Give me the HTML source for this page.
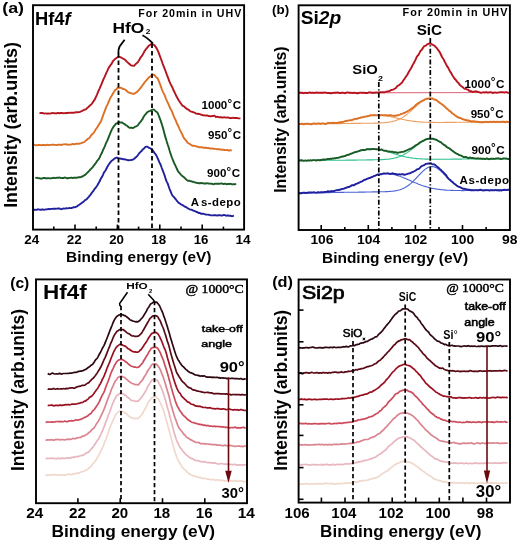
<!DOCTYPE html>
<html><head><meta charset="utf-8"><title>XPS spectra</title>
<style>html,body{margin:0;padding:0;background:#fff;}svg{display:block;}</style>
</head><body>
<svg width="520" height="545" viewBox="0 0 520 545">
<rect width="520" height="545" fill="#fff"/>
<path d="M39.5 113.0L40.2 113.1L40.9 113.0L41.6 113.0L42.3 113.0L43.0 113.1L43.7 113.4L44.4 113.6L45.1 113.4L45.8 113.4L46.5 113.6L47.2 113.7L47.9 113.5L48.6 113.4L49.3 113.6L50.0 113.6L50.7 113.4L51.4 113.2L52.1 113.1L52.8 113.0L53.5 113.1L54.2 113.2L54.9 113.3L55.6 113.4L56.3 113.5L57.0 113.2L57.7 112.9L58.4 113.0L59.1 113.3L59.8 113.2L60.5 113.0L61.2 113.0L61.9 112.9L62.6 113.1L63.3 113.2L64.0 113.1L64.7 113.1L65.4 113.2L66.1 113.0L66.8 112.9L67.5 113.0L68.2 112.8L68.9 112.7L69.6 112.9L70.3 112.9L71.0 112.7L71.7 112.7L72.4 112.7L73.1 112.7L73.8 112.9L74.5 112.7L75.2 112.3L75.9 112.3L76.6 112.4L77.3 112.3L78.0 112.2L78.7 112.1L79.4 112.1L80.1 111.9L80.8 111.5L81.5 111.2L82.2 110.9L82.9 110.5L83.6 110.1L84.3 109.7L85.0 109.6L85.7 109.4L86.4 108.9L87.1 108.1L87.8 107.5L88.5 107.0L89.2 106.1L89.9 105.5L90.6 105.0L91.3 104.4L92.0 103.5L92.7 102.4L93.4 101.3L94.1 100.4L94.8 99.4L95.5 97.8L96.2 96.3L96.9 94.8L97.6 93.2L98.3 91.4L99.0 89.8L99.7 88.3L100.4 86.7L101.1 85.2L101.8 83.4L102.5 81.6L103.2 79.9L103.9 78.3L104.6 76.9L105.3 75.3L106.0 73.7L106.7 72.1L107.4 70.7L108.1 69.0L108.8 67.6L109.5 66.6L110.2 65.6L110.9 64.7L111.6 63.8L112.3 62.3L113.0 61.1L113.7 60.3L114.4 59.6L115.1 58.9L115.8 58.4L116.5 58.1L117.2 57.6L117.9 57.0L118.6 56.9L119.3 56.9L120.0 57.0L120.7 57.3L121.4 57.6L122.1 58.1L122.8 58.5L123.5 58.8L124.2 59.2L124.9 59.8L125.6 60.3L126.3 61.1L127.0 61.9L127.7 62.5L128.4 63.1L129.1 63.7L129.8 64.3L130.5 64.9L131.2 65.4L131.9 65.6L132.6 65.6L133.3 65.9L134.0 65.8L134.7 65.1L135.4 64.4L136.1 63.7L136.8 63.1L137.5 62.6L138.2 61.6L138.9 60.5L139.6 59.3L140.3 58.0L141.0 56.9L141.7 56.1L142.4 55.1L143.1 53.9L143.8 52.6L144.5 51.3L145.2 50.2L145.9 49.2L146.6 48.4L147.3 47.6L148.0 46.7L148.7 45.8L149.4 45.3L150.1 45.0L150.8 44.3L151.5 43.9L152.2 44.1L152.9 44.4L153.6 44.6L154.3 45.2L155.0 46.0L155.7 46.8L156.4 48.0L157.1 49.3L157.8 50.7L158.5 52.3L159.2 54.2L159.9 56.1L160.6 58.0L161.3 59.8L162.0 61.8L162.7 63.9L163.4 65.6L164.1 67.4L164.8 69.2L165.5 71.0L166.2 72.9L166.9 74.9L167.6 76.6L168.3 78.4L169.0 80.3L169.7 82.1L170.4 83.7L171.1 85.1L171.8 86.3L172.5 87.7L173.2 89.5L173.9 91.0L174.6 92.3L175.3 93.8L176.0 95.3L176.7 96.8L177.4 98.1L178.1 99.3L178.8 100.5L179.5 101.4L180.2 102.5L180.9 103.5L181.6 104.5L182.3 105.5L183.0 106.0L183.7 106.1L184.4 106.7L185.1 107.5L185.8 108.0L186.5 108.7L187.2 109.2L187.9 109.3L188.6 109.7L189.3 110.5L190.0 111.0L190.7 111.4L191.4 111.6L192.1 111.8L192.8 112.0L193.5 112.4L194.2 112.5L194.9 112.8L195.6 113.3L196.3 113.6L197.0 113.7L197.7 113.7L198.4 113.8L199.1 114.0L199.8 114.2L200.5 114.5L201.2 114.7L201.9 114.9L202.6 115.3L203.3 115.4L204.0 115.3L204.7 115.4L205.4 115.6L206.1 115.5L206.8 115.4L207.5 115.7L208.2 116.0L208.9 116.0L209.6 116.1L210.3 116.2L211.0 116.4L211.7 116.2L212.4 115.9L213.1 116.0L213.8 115.9L214.5 115.8L215.2 116.4L215.9 117.0L216.6 116.8L217.3 116.6L218.0 116.8L218.7 117.1L219.4 117.2L220.1 117.2L220.8 117.2L221.5 117.3L222.2 117.5L222.9 117.5L223.6 117.4L224.3 117.3L225.0 117.4L225.7 117.6L226.4 117.6L227.1 117.5L227.8 117.5L228.5 117.6L229.2 117.7L229.9 118.1L230.6 118.2L231.3 118.0L232.0 118.1L232.7 117.9L233.4 117.6L234.1 117.8L234.8 118.1L235.5 118.0L236.2 117.9L236.9 118.0L237.6 118.2L238.3 118.4L239.0 118.4L239.7 118.4L240.4 118.6" stroke="#b4141e" stroke-width="1.9" fill="none" stroke-linejoin="round"/>
<path d="M33.0 144.9L33.7 144.7L34.4 144.8L35.1 145.2L35.8 145.4L36.5 145.3L37.2 145.2L37.9 145.1L38.6 145.0L39.3 145.0L40.0 144.9L40.7 145.1L41.4 145.3L42.1 145.2L42.8 145.0L43.5 144.8L44.2 145.0L44.9 145.3L45.6 145.2L46.3 145.0L47.0 144.8L47.7 144.8L48.4 145.0L49.1 145.1L49.8 145.0L50.5 144.9L51.2 144.9L51.9 144.8L52.6 144.7L53.3 144.7L54.0 144.9L54.7 144.9L55.4 144.9L56.1 145.0L56.8 145.1L57.5 144.9L58.2 144.7L58.9 144.8L59.6 144.7L60.3 144.6L61.0 144.8L61.7 145.0L62.4 144.7L63.1 144.4L63.8 144.4L64.5 144.4L65.2 144.2L65.9 144.3L66.6 144.5L67.3 144.5L68.0 144.6L68.7 144.7L69.4 144.6L70.1 144.6L70.8 144.6L71.5 144.3L72.2 144.0L72.9 143.9L73.6 144.1L74.3 144.4L75.0 144.2L75.7 143.8L76.4 143.6L77.1 143.7L77.8 143.8L78.5 143.7L79.2 143.7L79.9 143.5L80.6 143.3L81.3 143.1L82.0 142.8L82.7 142.5L83.4 142.4L84.1 142.2L84.8 141.6L85.5 140.9L86.2 140.3L86.9 139.8L87.6 139.1L88.3 138.6L89.0 138.4L89.7 137.7L90.4 136.6L91.1 135.5L91.8 134.7L92.5 133.9L93.2 133.3L93.9 132.6L94.6 131.4L95.3 130.1L96.0 129.0L96.7 128.1L97.4 127.1L98.1 125.9L98.8 124.7L99.5 123.6L100.2 122.6L100.9 121.4L101.6 119.7L102.3 117.6L103.0 115.7L103.7 113.7L104.4 111.9L105.1 110.1L105.8 108.2L106.5 106.5L107.2 105.1L107.9 103.6L108.6 102.0L109.3 100.5L110.0 98.7L110.7 97.3L111.4 96.2L112.1 95.0L112.8 93.7L113.5 92.6L114.2 91.5L114.9 90.3L115.6 89.7L116.3 89.3L117.0 88.5L117.7 87.8L118.4 87.8L119.1 87.9L119.8 87.9L120.5 87.8L121.2 87.8L121.9 88.2L122.6 88.8L123.3 89.0L124.0 89.2L124.7 89.4L125.4 89.8L126.1 90.2L126.8 91.0L127.5 91.7L128.2 92.1L128.9 92.6L129.6 92.9L130.3 92.9L131.0 93.2L131.7 93.5L132.4 93.8L133.1 93.8L133.8 93.8L134.5 93.6L135.2 93.1L135.9 92.6L136.6 92.3L137.3 91.7L138.0 90.8L138.7 90.1L139.4 89.3L140.1 88.4L140.8 87.6L141.5 86.7L142.2 85.7L142.9 84.7L143.6 83.7L144.3 82.8L145.0 81.8L145.7 81.1L146.4 80.3L147.1 79.5L147.8 78.6L148.5 77.8L149.2 77.2L149.9 76.8L150.6 76.1L151.3 75.4L152.0 74.9L152.7 74.7L153.4 74.8L154.1 74.9L154.8 75.3L155.5 76.3L156.2 77.2L156.9 77.6L157.6 78.4L158.3 79.8L159.0 81.5L159.7 83.4L160.4 85.2L161.1 87.1L161.8 89.1L162.5 90.8L163.2 92.3L163.9 93.7L164.6 95.1L165.3 96.8L166.0 98.8L166.7 100.4L167.4 101.8L168.1 103.4L168.8 104.9L169.5 106.6L170.2 108.3L170.9 109.4L171.6 110.7L172.3 112.3L173.0 114.1L173.7 116.1L174.4 117.7L175.1 119.0L175.8 120.5L176.5 122.4L177.2 124.0L177.9 125.2L178.6 126.8L179.3 128.5L180.0 130.1L180.7 131.4L181.4 132.8L182.1 134.1L182.8 135.6L183.5 137.2L184.2 138.4L184.9 139.2L185.6 140.0L186.3 140.9L187.0 141.9L187.7 142.8L188.4 143.3L189.1 143.7L189.8 144.0L190.5 144.4L191.2 144.9L191.9 145.5L192.6 145.8L193.3 145.7L194.0 145.7L194.7 145.9L195.4 146.1L196.1 146.3L196.8 146.5L197.5 146.7L198.2 147.0L198.9 147.1L199.6 147.2L200.3 147.2L201.0 147.2L201.7 147.3L202.4 147.4L203.1 147.6L203.8 147.8L204.5 147.8L205.2 147.7L205.9 147.8L206.6 147.9L207.3 148.0L208.0 148.0L208.7 148.0L209.4 148.3L210.1 148.5L210.8 148.5L211.5 148.5L212.2 148.5L212.9 148.6L213.6 148.7L214.3 148.8L215.0 148.9L215.7 148.9L216.4 149.1L217.1 149.2L217.8 149.2L218.5 149.3L219.2 149.3L219.9 149.3L220.6 149.5L221.3 149.7L222.0 149.8L222.7 149.8L223.4 149.7L224.1 149.8L224.8 150.0L225.5 150.1L226.2 150.0L226.9 149.9L227.6 150.2L228.3 150.5L229.0 150.6L229.7 150.3L230.4 150.2L231.1 150.4L231.8 150.5" stroke="#dc7024" stroke-width="1.9" fill="none" stroke-linejoin="round"/>
<path d="M35.3 177.8L36.0 177.9L36.7 177.9L37.4 177.8L38.1 178.1L38.8 178.3L39.5 178.3L40.2 178.4L40.9 178.7L41.6 178.6L42.3 178.3L43.0 178.0L43.7 177.9L44.4 178.0L45.1 178.2L45.8 178.3L46.5 178.3L47.2 178.3L47.9 178.1L48.6 178.1L49.3 178.3L50.0 178.4L50.7 178.4L51.4 178.2L52.1 178.1L52.8 178.0L53.5 177.8L54.2 177.8L54.9 178.0L55.6 178.1L56.3 177.9L57.0 177.7L57.7 177.8L58.4 177.8L59.1 177.6L59.8 177.5L60.5 177.8L61.2 178.1L61.9 178.1L62.6 177.9L63.3 178.0L64.0 177.8L64.7 177.5L65.4 177.7L66.1 178.0L66.8 178.2L67.5 178.3L68.2 178.2L68.9 178.0L69.6 177.9L70.3 177.9L71.0 177.7L71.7 177.7L72.4 178.0L73.1 178.0L73.8 177.7L74.5 177.6L75.2 177.7L75.9 177.7L76.6 177.7L77.3 177.6L78.0 177.3L78.7 177.1L79.4 177.2L80.1 177.4L80.8 177.2L81.5 176.7L82.2 176.5L82.9 176.3L83.6 175.7L84.3 175.2L85.0 174.9L85.7 174.4L86.4 173.6L87.1 172.9L87.8 172.3L88.5 171.6L89.2 170.9L89.9 170.0L90.6 169.2L91.3 168.6L92.0 167.8L92.7 167.1L93.4 166.2L94.1 165.2L94.8 164.3L95.5 163.4L96.2 162.5L96.9 161.3L97.6 160.3L98.3 159.6L99.0 158.7L99.7 157.4L100.4 155.7L101.1 154.3L101.8 153.0L102.5 151.3L103.2 149.6L103.9 148.3L104.6 146.8L105.3 145.0L106.0 143.2L106.7 141.8L107.4 140.4L108.1 138.6L108.8 136.8L109.5 135.1L110.2 133.4L110.9 131.7L111.6 130.1L112.3 128.7L113.0 127.5L113.7 126.5L114.4 125.7L115.1 124.7L115.8 123.8L116.5 123.4L117.2 123.1L117.9 122.8L118.6 122.3L119.3 122.0L120.0 122.3L120.7 122.6L121.4 122.5L122.1 122.5L122.8 123.0L123.5 123.6L124.2 123.8L124.9 124.3L125.6 125.0L126.3 125.4L127.0 125.8L127.7 126.3L128.4 127.1L129.1 127.6L129.8 127.8L130.5 127.8L131.2 127.7L131.9 127.9L132.6 128.0L133.3 127.8L134.0 127.6L134.7 127.1L135.4 126.6L136.1 126.4L136.8 126.0L137.5 125.5L138.2 124.8L138.9 123.8L139.6 122.8L140.3 122.1L141.0 121.2L141.7 120.2L142.4 119.3L143.1 117.9L143.8 116.5L144.5 115.5L145.2 114.6L145.9 113.9L146.6 113.0L147.3 112.2L148.0 111.8L148.7 111.4L149.4 111.1L150.1 110.9L150.8 110.5L151.5 110.2L152.2 109.9L152.9 109.6L153.6 109.5L154.3 109.8L155.0 110.6L155.7 111.3L156.4 111.8L157.1 112.3L157.8 113.3L158.5 115.0L159.2 116.8L159.9 118.6L160.6 120.5L161.3 122.6L162.0 124.8L162.7 127.1L163.4 129.5L164.1 132.2L164.8 135.1L165.5 137.4L166.2 139.6L166.9 142.0L167.6 144.2L168.3 146.2L169.0 148.6L169.7 151.0L170.4 153.2L171.1 155.3L171.8 157.3L172.5 159.0L173.2 160.6L173.9 162.4L174.6 164.0L175.3 165.3L176.0 166.8L176.7 168.5L177.4 170.0L178.1 171.4L178.8 172.3L179.5 172.9L180.2 173.8L180.9 174.6L181.6 175.3L182.3 176.0L183.0 176.5L183.7 177.0L184.4 177.7L185.1 178.3L185.8 179.0L186.5 179.7L187.2 180.3L187.9 180.8L188.6 180.8L189.3 180.7L190.0 181.0L190.7 181.1L191.4 181.4L192.1 181.7L192.8 181.7L193.5 181.8L194.2 182.2L194.9 182.5L195.6 182.6L196.3 182.7L197.0 182.9L197.7 183.0L198.4 183.2L199.1 183.3L199.8 183.3L200.5 183.2L201.2 183.0L201.9 183.2L202.6 183.3L203.3 183.3L204.0 183.4L204.7 183.7L205.4 183.6L206.1 183.2L206.8 183.1L207.5 183.4L208.2 183.5L208.9 183.5L209.6 183.6L210.3 183.6L211.0 183.7L211.7 183.6L212.4 183.8L213.1 184.2L213.8 184.2L214.5 183.8L215.2 183.6L215.9 183.7L216.6 183.8L217.3 183.7L218.0 183.7L218.7 183.8L219.4 183.7L220.1 183.6L220.8 183.6L221.5 183.4L222.2 183.5L222.9 183.8L223.6 184.0L224.3 183.8L225.0 183.7L225.7 183.9L226.4 184.2L227.1 184.2L227.8 184.0L228.5 184.0L229.2 184.0L229.9 183.9L230.6 183.8L231.3 184.0L232.0 184.3L232.7 184.4L233.4 184.3L234.1 184.2L234.8 184.2L235.5 184.1L236.2 184.0" stroke="#1a5a24" stroke-width="1.9" fill="none" stroke-linejoin="round"/>
<path d="M33.0 210.4L33.7 210.2L34.4 209.8L35.1 209.8L35.8 209.9L36.5 209.9L37.2 209.5L37.9 209.3L38.6 209.4L39.3 209.6L40.0 209.7L40.7 209.8L41.4 209.7L42.1 209.5L42.8 209.3L43.5 209.6L44.2 209.8L44.9 209.6L45.6 209.4L46.3 209.4L47.0 209.4L47.7 209.1L48.4 209.0L49.1 209.2L49.8 209.1L50.5 209.0L51.2 208.9L51.9 208.9L52.6 208.9L53.3 208.7L54.0 208.6L54.7 208.8L55.4 208.8L56.1 208.6L56.8 208.6L57.5 208.7L58.2 208.5L58.9 208.5L59.6 208.5L60.3 208.9L61.0 209.2L61.7 209.1L62.4 208.7L63.1 208.6L63.8 208.5L64.5 208.6L65.2 208.5L65.9 208.3L66.6 208.3L67.3 208.4L68.0 208.4L68.7 208.2L69.4 208.0L70.1 208.1L70.8 208.1L71.5 208.0L72.2 207.9L72.9 207.5L73.6 207.2L74.3 207.4L75.0 207.3L75.7 206.9L76.4 206.6L77.1 206.3L77.8 205.7L78.5 205.1L79.2 204.8L79.9 204.4L80.6 203.8L81.3 203.3L82.0 202.7L82.7 202.1L83.4 201.8L84.1 201.1L84.8 200.3L85.5 199.9L86.2 199.6L86.9 199.0L87.6 198.1L88.3 197.3L89.0 196.6L89.7 195.6L90.4 194.8L91.1 193.9L91.8 192.8L92.5 191.9L93.2 191.1L93.9 190.1L94.6 189.0L95.3 188.1L96.0 187.3L96.7 186.2L97.4 185.2L98.1 184.0L98.8 182.8L99.5 181.5L100.2 180.0L100.9 178.6L101.6 177.4L102.3 176.4L103.0 174.9L103.7 173.1L104.4 171.9L105.1 171.0L105.8 169.9L106.5 168.5L107.2 167.1L107.9 165.9L108.6 164.8L109.3 163.7L110.0 162.7L110.7 161.8L111.4 161.1L112.1 160.6L112.8 160.1L113.5 159.4L114.2 158.8L114.9 158.4L115.6 158.0L116.3 157.7L117.0 157.6L117.7 157.9L118.4 158.3L119.1 158.4L119.8 158.5L120.5 158.7L121.2 158.7L121.9 158.8L122.6 159.1L123.3 159.3L124.0 159.2L124.7 159.3L125.4 159.5L126.1 159.6L126.8 159.8L127.5 160.1L128.2 160.2L128.9 160.2L129.6 160.1L130.3 160.1L131.0 160.0L131.7 159.8L132.4 159.8L133.1 159.5L133.8 159.1L134.5 158.6L135.2 157.8L135.9 157.2L136.6 156.7L137.3 155.9L138.0 155.0L138.7 154.0L139.4 153.0L140.1 152.3L140.8 151.6L141.5 151.0L142.2 150.2L142.9 149.4L143.6 148.8L144.3 148.1L145.0 147.3L145.7 146.8L146.4 146.6L147.1 146.6L147.8 147.1L148.5 147.6L149.2 147.9L149.9 148.2L150.6 148.5L151.3 149.1L152.0 149.6L152.7 150.3L153.4 151.3L154.1 152.4L154.8 153.3L155.5 154.1L156.2 155.2L156.9 156.6L157.6 158.1L158.3 159.6L159.0 161.3L159.7 162.9L160.4 164.2L161.1 166.0L161.8 168.0L162.5 169.8L163.2 171.6L163.9 173.5L164.6 175.4L165.3 177.7L166.0 180.0L166.7 181.6L167.4 182.9L168.1 184.7L168.8 186.8L169.5 188.8L170.2 190.4L170.9 192.1L171.6 193.9L172.3 195.3L173.0 196.1L173.7 196.8L174.4 197.6L175.1 198.5L175.8 199.3L176.5 200.3L177.2 201.1L177.9 202.0L178.6 202.9L179.3 203.2L180.0 203.5L180.7 204.2L181.4 204.7L182.1 204.9L182.8 205.2L183.5 205.7L184.2 206.2L184.9 206.7L185.6 206.8L186.3 207.1L187.0 207.7L187.7 208.2L188.4 208.7L189.1 209.0L189.8 209.4L190.5 209.6L191.2 209.6L191.9 209.9L192.6 210.3L193.3 210.7L194.0 210.9L194.7 211.0L195.4 211.3L196.1 211.8L196.8 212.0L197.5 212.2L198.2 212.9L198.9 213.0L199.6 212.8L200.3 213.2L201.0 213.8L201.7 213.8L202.4 213.7L203.1 213.8L203.8 213.9L204.5 214.1L205.2 214.3L205.9 214.6L206.6 214.6L207.3 214.6L208.0 214.6L208.7 214.8L209.4 214.9L210.1 215.1L210.8 215.4L211.5 215.4L212.2 215.4L212.9 215.4L213.6 215.3L214.3 215.3L215.0 215.3L215.7 215.3L216.4 215.4L217.1 215.5L217.8 215.5L218.5 215.2L219.2 215.2L219.9 215.3L220.6 215.4L221.3 215.5L222.0 215.6L222.7 215.3L223.4 215.0L224.1 215.0L224.8 215.1L225.5 215.4L226.2 215.8L226.9 215.6L227.6 215.3L228.3 215.5L229.0 215.9L229.7 215.8L230.4 215.7L231.1 216.0L231.8 216.2L232.5 216.1L233.2 215.8L233.9 215.7" stroke="#20209e" stroke-width="1.9" fill="none" stroke-linejoin="round"/>
<path d="M118.5 53V229M152 43.5V229" stroke="#000" stroke-width="1.8" stroke-dasharray="4.5 3" fill="none"/>
<path d="M118.4 53.5C118.2 50 118.8 48 119.6 46.5L124.6 39.8" stroke="#000" stroke-width="1.8" fill="none"/>
<path d="M142.5 35.2C146 37 149 39.5 152.9 43.3" stroke="#000" stroke-width="1.8" fill="none"/>
<path d="M299 92.9L509 92.5" stroke="#e07080" stroke-width="1.1" fill="none"/>
<path d="M299.0 93.0L299.7 92.8L300.4 92.7L301.1 92.7L301.8 92.7L302.5 92.8L303.2 93.1L303.9 93.2L304.6 92.9L305.3 92.8L306.0 92.9L306.7 93.0L307.4 93.1L308.1 92.8L308.8 92.6L309.5 92.4L310.2 92.6L310.9 92.9L311.6 92.8L312.3 92.7L313.0 92.7L313.7 92.9L314.4 92.9L315.1 92.8L315.8 92.6L316.5 92.4L317.2 92.6L317.9 92.9L318.6 92.6L319.3 92.6L320.0 92.8L320.7 92.7L321.4 92.7L322.1 92.8L322.8 92.8L323.5 92.7L324.2 92.5L324.9 92.6L325.6 92.6L326.3 92.7L327.0 92.9L327.7 93.1L328.4 93.0L329.1 92.9L329.8 93.1L330.5 93.2L331.2 93.3L331.9 93.2L332.6 92.9L333.3 92.9L334.0 92.8L334.7 92.7L335.4 92.7L336.1 92.7L336.8 92.6L337.5 92.4L338.2 92.5L338.9 92.8L339.6 93.1L340.3 93.1L341.0 92.9L341.7 92.7L342.4 92.7L343.1 92.8L343.8 92.9L344.5 93.1L345.2 93.2L345.9 92.8L346.6 92.5L347.3 92.4L348.0 92.4L348.7 92.6L349.4 92.9L350.1 92.8L350.8 92.6L351.5 92.9L352.2 93.0L352.9 92.8L353.6 92.6L354.3 92.7L355.0 92.9L355.7 93.0L356.4 93.2L357.1 93.2L357.8 93.2L358.5 93.2L359.2 92.9L359.9 92.6L360.6 92.6L361.3 92.8L362.0 92.8L362.7 92.9L363.4 92.7L364.1 92.7L364.8 93.0L365.5 93.0L366.2 92.9L366.9 93.0L367.6 93.0L368.3 92.7L369.0 92.3L369.7 92.4L370.4 92.5L371.1 92.5L371.8 92.8L372.5 92.9L373.2 92.6L373.9 92.6L374.6 92.9L375.3 92.6L376.0 92.4L376.7 92.5L377.4 92.6L378.1 92.5L378.8 92.5L379.5 92.3L380.2 92.2L380.9 92.3L381.6 92.4L382.3 92.2L383.0 92.1L383.7 92.3L384.4 92.3L385.1 92.1L385.8 91.9L386.5 91.6L387.2 91.4L387.9 91.4L388.6 91.4L389.3 91.2L390.0 90.7L390.7 90.2L391.4 90.0L392.1 89.9L392.8 89.7L393.5 89.4L394.2 89.0L394.9 88.7L395.6 88.3L396.3 87.4L397.0 86.5L397.7 85.9L398.4 85.5L399.1 85.2L399.8 84.5L400.5 83.9L401.2 83.3L401.9 82.6L402.6 81.6L403.3 80.5L404.0 79.5L404.7 78.6L405.4 77.5L406.1 76.4L406.8 75.5L407.5 74.4L408.2 73.0L408.9 71.7L409.6 70.6L410.3 69.5L411.0 68.3L411.7 67.0L412.4 65.6L413.1 64.2L413.8 63.0L414.5 61.7L415.2 60.4L415.9 58.9L416.6 57.2L417.3 56.1L418.0 55.4L418.7 54.4L419.4 53.1L420.1 51.7L420.8 50.6L421.5 50.0L422.2 49.2L422.9 48.0L423.6 46.9L424.3 46.1L425.0 45.9L425.7 45.7L426.4 45.1L427.1 44.6L427.8 44.1L428.5 43.8L429.2 43.7L429.9 43.5L430.6 43.6L431.3 44.0L432.0 44.4L432.7 44.8L433.4 45.1L434.1 45.4L434.8 45.9L435.5 46.8L436.2 47.5L436.9 48.2L437.6 49.2L438.3 50.2L439.0 51.1L439.7 52.1L440.4 53.5L441.1 55.0L441.8 56.5L442.5 57.8L443.2 58.6L443.9 59.9L444.6 61.5L445.3 62.7L446.0 64.1L446.7 65.6L447.4 66.6L448.1 67.6L448.8 68.9L449.5 70.4L450.2 71.6L450.9 72.6L451.6 73.8L452.3 75.2L453.0 76.3L453.7 77.3L454.4 78.4L455.1 79.3L455.8 79.9L456.5 80.9L457.2 81.9L457.9 82.5L458.6 83.1L459.3 84.1L460.0 85.1L460.7 85.7L461.4 86.1L462.1 86.8L462.8 87.3L463.5 87.9L464.2 88.5L464.9 88.8L465.6 88.9L466.3 89.1L467.0 89.6L467.7 89.6L468.4 89.9L469.1 90.8L469.8 91.2L470.5 91.2L471.2 91.2L471.9 91.5L472.6 91.9L473.3 91.9L474.0 91.6L474.7 91.5L475.4 91.5L476.1 91.4L476.8 91.5L477.5 91.8L478.2 91.9L478.9 92.1L479.6 92.4L480.3 92.7L481.0 92.7L481.7 92.6L482.4 92.5L483.1 92.3L483.8 92.4L484.5 92.5L485.2 92.3L485.9 92.2L486.6 92.2L487.3 92.5L488.0 92.7L488.7 92.5L489.4 92.4L490.1 92.3L490.8 92.1L491.5 92.3L492.2 92.9L492.9 93.1L493.6 92.7L494.3 92.5L495.0 92.5L495.7 92.6L496.4 92.7L497.1 92.7L497.8 92.6L498.5 92.6L499.2 92.4L499.9 92.2L500.6 92.1L501.3 92.2L502.0 92.2L502.7 92.3L503.4 92.3L504.1 92.5L504.8 92.5L505.5 92.2L506.2 92.2L506.9 92.3L507.6 92.7L508.3 92.9L509.0 92.8" stroke="#b8121e" stroke-width="1.9" fill="none" stroke-linejoin="round"/>
<path d="M299.0 124.0L299.7 124.0L300.4 124.0L301.1 124.0L301.8 124.0L302.5 124.0L303.2 123.9L303.9 123.9L304.6 123.9L305.3 123.9L306.0 123.9L306.7 123.9L307.4 123.9L308.1 123.9L308.8 123.9L309.5 123.9L310.2 123.9L310.9 123.8L311.6 123.8L312.3 123.8L313.0 123.8L313.7 123.8L314.4 123.8L315.1 123.8L315.8 123.7L316.5 123.7L317.2 123.7L317.9 123.7L318.6 123.7L319.3 123.7L320.0 123.6L320.7 123.6L321.4 123.6L322.1 123.6L322.8 123.5L323.5 123.5L324.2 123.5L324.9 123.5L325.6 123.4L326.3 123.4L327.0 123.4L327.7 123.3L328.4 123.3L329.1 123.2L329.8 123.2L330.5 123.1L331.2 123.1L331.9 123.0L332.6 123.0L333.3 122.9L334.0 122.8L334.7 122.8L335.4 122.7L336.1 122.6L336.8 122.5L337.5 122.5L338.2 122.4L338.9 122.3L339.6 122.2L340.3 122.1L341.0 122.0L341.7 121.9L342.4 121.8L343.1 121.6L343.8 121.5L344.5 121.4L345.2 121.3L345.9 121.1L346.6 121.0L347.3 120.8L348.0 120.7L348.7 120.5L349.4 120.4L350.1 120.2L350.8 120.1L351.5 119.9L352.2 119.7L352.9 119.6L353.6 119.4L354.3 119.2L355.0 119.0L355.7 118.9L356.4 118.7L357.1 118.5L357.8 118.3L358.5 118.2L359.2 118.0L359.9 117.8L360.6 117.6L361.3 117.5L362.0 117.3L362.7 117.1L363.4 117.0L364.1 116.8L364.8 116.7L365.5 116.5L366.2 116.4L366.9 116.2L367.6 116.1L368.3 116.0L369.0 115.9L369.7 115.8L370.4 115.7L371.1 115.6L371.8 115.5L372.5 115.4L373.2 115.4L373.9 115.3L374.6 115.3L375.3 115.2L376.0 115.2L376.7 115.2L377.4 115.2L378.1 115.2L378.8 115.2L379.5 115.2L380.2 115.3L380.9 115.3L381.6 115.3L382.3 115.4L383.0 115.5L383.7 115.5L384.4 115.6L385.1 115.7L385.8 115.8L386.5 115.9L387.2 116.1L387.9 116.2L388.6 116.3L389.3 116.4L390.0 116.6L390.7 116.7L391.4 116.9L392.1 117.0L392.8 117.2L393.5 117.3L394.2 117.5L394.9 117.6L395.6 117.8L396.3 118.0L397.0 118.1L397.7 118.3L398.4 118.4L399.1 118.6L399.8 118.8L400.5 118.9L401.2 119.1L401.9 119.2L402.6 119.4L403.3 119.5L404.0 119.7L404.7 119.8L405.4 120.0L406.1 120.1L406.8 120.2L407.5 120.4L408.2 120.5L408.9 120.6L409.6 120.7L410.3 120.8L411.0 120.9L411.7 121.0L412.4 121.1L413.1 121.2L413.8 121.3L414.5 121.4L415.2 121.5L415.9 121.6L416.6 121.6L417.3 121.7L418.0 121.8L418.7 121.8L419.4 121.9L420.1 121.9L420.8 122.0L421.5 122.0L422.2 122.1L422.9 122.1L423.6 122.2L424.3 122.2L425.0 122.2L425.7 122.3L426.4 122.3L427.1 122.3L427.8 122.3L428.5 122.4L429.2 122.4L429.9 122.4L430.6 122.4L431.3 122.4L432.0 122.4L432.7 122.4L433.4 122.4L434.1 122.4L434.8 122.5L435.5 122.5L436.2 122.5L436.9 122.5L437.6 122.5L438.3 122.5L439.0 122.5L439.7 122.5L440.4 122.5L441.1 122.5L441.8 122.5L442.5 122.5L443.2 122.5L443.9 122.5L444.6 122.4L445.3 122.4L446.0 122.4L446.7 122.4L447.4 122.4L448.1 122.4L448.8 122.4L449.5 122.4L450.2 122.4L450.9 122.4L451.6 122.4L452.3 122.4L453.0 122.4L453.7 122.4L454.4 122.4L455.1 122.4L455.8 122.4L456.5 122.3L457.2 122.3L457.9 122.3L458.6 122.3L459.3 122.3L460.0 122.3L460.7 122.3L461.4 122.3L462.1 122.3L462.8 122.3L463.5 122.3L464.2 122.3L464.9 122.3L465.6 122.3L466.3 122.2L467.0 122.2L467.7 122.2L468.4 122.2L469.1 122.2L469.8 122.2L470.5 122.2L471.2 122.2L471.9 122.2L472.6 122.2L473.3 122.2L474.0 122.2L474.7 122.2L475.4 122.2L476.1 122.1L476.8 122.1L477.5 122.1L478.2 122.1L478.9 122.1L479.6 122.1L480.3 122.1L481.0 122.1L481.7 122.1L482.4 122.1L483.1 122.1L483.8 122.1L484.5 122.1L485.2 122.0L485.9 122.0L486.6 122.0L487.3 122.0L488.0 122.0L488.7 122.0L489.4 122.0L490.1 122.0L490.8 122.0L491.5 122.0L492.2 122.0L492.9 122.0L493.6 122.0L494.3 122.0L495.0 121.9L495.7 121.9L496.4 121.9L497.1 121.9L497.8 121.9L498.5 121.9L499.2 121.9L499.9 121.9L500.6 121.9L501.3 121.9L502.0 121.9L502.7 121.9L503.4 121.9L504.1 121.9L504.8 121.8L505.5 121.8L506.2 121.8L506.9 121.8L507.6 121.8L508.3 121.8L509.0 121.8" stroke="#eea060" stroke-width="1.1" fill="none"/>
<path d="M299.0 124.0L299.7 124.0L300.4 124.0L301.1 124.0L301.8 124.0L302.5 124.0L303.2 124.0L303.9 123.9L304.6 123.9L305.3 123.9L306.0 123.9L306.7 123.9L307.4 123.9L308.1 123.9L308.8 123.9L309.5 123.9L310.2 123.9L310.9 123.9L311.6 123.9L312.3 123.9L313.0 123.9L313.7 123.8L314.4 123.8L315.1 123.8L315.8 123.8L316.5 123.8L317.2 123.8L317.9 123.8L318.6 123.8L319.3 123.8L320.0 123.8L320.7 123.8L321.4 123.8L322.1 123.8L322.8 123.8L323.5 123.7L324.2 123.7L324.9 123.7L325.6 123.7L326.3 123.7L327.0 123.7L327.7 123.7L328.4 123.7L329.1 123.7L329.8 123.7L330.5 123.7L331.2 123.7L331.9 123.7L332.6 123.6L333.3 123.6L334.0 123.6L334.7 123.6L335.4 123.6L336.1 123.6L336.8 123.6L337.5 123.6L338.2 123.6L338.9 123.6L339.6 123.6L340.3 123.6L341.0 123.6L341.7 123.6L342.4 123.5L343.1 123.5L343.8 123.5L344.5 123.5L345.2 123.5L345.9 123.5L346.6 123.5L347.3 123.5L348.0 123.5L348.7 123.5L349.4 123.5L350.1 123.5L350.8 123.5L351.5 123.4L352.2 123.4L352.9 123.4L353.6 123.4L354.3 123.4L355.0 123.4L355.7 123.4L356.4 123.4L357.1 123.4L357.8 123.4L358.5 123.4L359.2 123.4L359.9 123.4L360.6 123.4L361.3 123.3L362.0 123.3L362.7 123.3L363.4 123.3L364.1 123.3L364.8 123.3L365.5 123.3L366.2 123.3L366.9 123.3L367.6 123.3L368.3 123.3L369.0 123.2L369.7 123.2L370.4 123.2L371.1 123.2L371.8 123.2L372.5 123.2L373.2 123.2L373.9 123.2L374.6 123.1L375.3 123.1L376.0 123.1L376.7 123.1L377.4 123.1L378.1 123.0L378.8 123.0L379.5 123.0L380.2 123.0L380.9 122.9L381.6 122.9L382.3 122.8L383.0 122.8L383.7 122.7L384.4 122.7L385.1 122.6L385.8 122.6L386.5 122.5L387.2 122.4L387.9 122.3L388.6 122.2L389.3 122.1L390.0 122.0L390.7 121.9L391.4 121.7L392.1 121.6L392.8 121.4L393.5 121.2L394.2 121.0L394.9 120.8L395.6 120.6L396.3 120.4L397.0 120.1L397.7 119.8L398.4 119.5L399.1 119.2L399.8 118.9L400.5 118.6L401.2 118.2L401.9 117.8L402.6 117.4L403.3 116.9L404.0 116.5L404.7 116.0L405.4 115.5L406.1 115.0L406.8 114.5L407.5 113.9L408.2 113.4L408.9 112.8L409.6 112.2L410.3 111.6L411.0 111.0L411.7 110.3L412.4 109.7L413.1 109.1L413.8 108.4L414.5 107.8L415.2 107.1L415.9 106.5L416.6 105.9L417.3 105.2L418.0 104.6L418.7 104.0L419.4 103.5L420.1 102.9L420.8 102.4L421.5 101.9L422.2 101.4L422.9 101.0L423.6 100.5L424.3 100.2L425.0 99.8L425.7 99.5L426.4 99.3L427.1 99.0L427.8 98.9L428.5 98.7L429.2 98.7L429.9 98.6L430.6 98.6L431.3 98.7L432.0 98.8L432.7 98.9L433.4 99.1L434.1 99.4L434.8 99.6L435.5 99.9L436.2 100.3L436.9 100.7L437.6 101.1L438.3 101.6L439.0 102.0L439.7 102.6L440.4 103.1L441.1 103.6L441.8 104.2L442.5 104.8L443.2 105.4L443.9 106.0L444.6 106.6L445.3 107.3L446.0 107.9L446.7 108.5L447.4 109.2L448.1 109.8L448.8 110.4L449.5 111.0L450.2 111.6L450.9 112.2L451.6 112.8L452.3 113.3L453.0 113.8L453.7 114.4L454.4 114.9L455.1 115.4L455.8 115.8L456.5 116.3L457.2 116.7L457.9 117.1L458.6 117.5L459.3 117.8L460.0 118.2L460.7 118.5L461.4 118.8L462.1 119.1L462.8 119.3L463.5 119.6L464.2 119.8L464.9 120.0L465.6 120.2L466.3 120.4L467.0 120.6L467.7 120.7L468.4 120.9L469.1 121.0L469.8 121.1L470.5 121.2L471.2 121.3L471.9 121.4L472.6 121.5L473.3 121.6L474.0 121.6L474.7 121.7L475.4 121.7L476.1 121.8L476.8 121.8L477.5 121.8L478.2 121.9L478.9 121.9L479.6 121.9L480.3 121.9L481.0 121.9L481.7 122.0L482.4 122.0L483.1 122.0L483.8 122.0L484.5 122.0L485.2 122.0L485.9 122.0L486.6 122.0L487.3 122.0L488.0 122.0L488.7 122.0L489.4 122.0L490.1 122.0L490.8 122.0L491.5 122.0L492.2 122.0L492.9 122.0L493.6 122.0L494.3 121.9L495.0 121.9L495.7 121.9L496.4 121.9L497.1 121.9L497.8 121.9L498.5 121.9L499.2 121.9L499.9 121.9L500.6 121.9L501.3 121.9L502.0 121.9L502.7 121.9L503.4 121.9L504.1 121.9L504.8 121.8L505.5 121.8L506.2 121.8L506.9 121.8L507.6 121.8L508.3 121.8L509.0 121.8" stroke="#eea060" stroke-width="1.1" fill="none"/>
<path d="M299.0 124.1L299.7 124.1L300.4 124.0L301.1 124.0L301.8 123.7L302.5 123.6L303.2 124.3L303.9 124.4L304.6 123.9L305.3 123.8L306.0 123.9L306.7 123.8L307.4 123.6L308.1 123.7L308.8 123.9L309.5 124.0L310.2 124.1L310.9 124.2L311.6 124.2L312.3 123.9L313.0 123.6L313.7 123.4L314.4 123.5L315.1 123.8L315.8 123.7L316.5 123.7L317.2 123.7L317.9 123.5L318.6 123.5L319.3 123.5L320.0 123.6L320.7 123.8L321.4 123.7L322.1 123.4L322.8 123.4L323.5 123.5L324.2 123.6L324.9 123.9L325.6 124.1L326.3 123.8L327.0 123.4L327.7 123.2L328.4 123.0L329.1 122.9L329.8 122.9L330.5 122.9L331.2 123.0L331.9 123.1L332.6 122.9L333.3 122.7L334.0 122.8L334.7 123.0L335.4 123.1L336.1 123.0L336.8 123.0L337.5 122.8L338.2 122.5L338.9 122.6L339.6 122.6L340.3 122.2L341.0 122.2L341.7 122.3L342.4 122.0L343.1 121.9L343.8 121.7L344.5 121.4L345.2 121.2L345.9 120.9L346.6 120.7L347.3 120.7L348.0 120.6L348.7 120.6L349.4 120.4L350.1 120.2L350.8 120.4L351.5 120.4L352.2 119.9L352.9 119.6L353.6 119.4L354.3 119.3L355.0 119.0L355.7 118.7L356.4 118.9L357.1 118.9L357.8 118.4L358.5 118.2L359.2 118.1L359.9 117.9L360.6 117.8L361.3 117.4L362.0 117.4L362.7 117.4L363.4 117.0L364.1 116.7L364.8 116.6L365.5 116.6L366.2 116.5L366.9 116.3L367.6 116.1L368.3 115.9L369.0 115.9L369.7 115.6L370.4 115.2L371.1 115.2L371.8 115.2L372.5 115.4L373.2 115.5L373.9 115.1L374.6 115.0L375.3 115.3L376.0 115.4L376.7 115.4L377.4 115.2L378.1 114.9L378.8 115.1L379.5 115.4L380.2 115.3L380.9 115.2L381.6 115.1L382.3 115.1L383.0 115.2L383.7 115.5L384.4 115.3L385.1 115.0L385.8 115.2L386.5 115.5L387.2 115.5L387.9 115.4L388.6 115.3L389.3 115.3L390.0 115.1L390.7 115.2L391.4 115.5L392.1 115.6L392.8 115.7L393.5 115.9L394.2 115.7L394.9 115.7L395.6 115.9L396.3 115.6L397.0 115.3L397.7 115.3L398.4 115.1L399.1 114.8L399.8 114.6L400.5 114.3L401.2 113.9L401.9 113.9L402.6 113.7L403.3 113.3L404.0 112.9L404.7 112.7L405.4 112.6L406.1 112.1L406.8 111.7L407.5 111.3L408.2 110.8L408.9 110.5L409.6 110.2L410.3 109.5L411.0 109.0L411.7 108.7L412.4 108.0L413.1 107.4L413.8 107.1L414.5 106.4L415.2 105.5L415.9 104.9L416.6 104.4L417.3 103.8L418.0 103.3L418.7 102.9L419.4 102.5L420.1 102.0L420.8 101.6L421.5 101.2L422.2 100.7L422.9 100.5L423.6 100.3L424.3 99.8L425.0 99.3L425.7 99.0L426.4 98.7L427.1 98.7L427.8 98.7L428.5 98.4L429.2 98.4L429.9 98.5L430.6 98.4L431.3 98.4L432.0 98.4L432.7 98.5L433.4 99.0L434.1 99.5L434.8 99.6L435.5 99.7L436.2 100.0L436.9 100.6L437.6 101.1L438.3 101.8L439.0 102.4L439.7 102.8L440.4 103.3L441.1 103.8L441.8 104.2L442.5 104.6L443.2 105.2L443.9 106.0L444.6 106.4L445.3 106.9L446.0 107.8L446.7 108.5L447.4 109.0L448.1 109.7L448.8 110.4L449.5 110.9L450.2 111.3L450.9 111.9L451.6 112.7L452.3 113.3L453.0 113.7L453.7 114.2L454.4 114.7L455.1 115.4L455.8 115.9L456.5 116.3L457.2 116.9L457.9 117.3L458.6 117.5L459.3 117.8L460.0 117.8L460.7 118.0L461.4 118.4L462.1 118.9L462.8 119.2L463.5 119.5L464.2 119.6L464.9 119.7L465.6 120.0L466.3 120.2L467.0 120.3L467.7 120.5L468.4 120.5L469.1 120.6L469.8 120.8L470.5 121.2L471.2 121.5L471.9 121.5L472.6 121.3L473.3 121.3L474.0 121.4L474.7 121.5L475.4 121.5L476.1 121.8L476.8 121.8L477.5 121.7L478.2 121.9L478.9 122.1L479.6 122.2L480.3 122.2L481.0 122.2L481.7 122.3L482.4 122.3L483.1 122.2L483.8 122.2L484.5 122.1L485.2 121.9L485.9 121.8L486.6 121.9L487.3 122.0L488.0 121.9L488.7 122.0L489.4 122.1L490.1 121.9L490.8 121.6L491.5 121.8L492.2 122.0L492.9 121.9L493.6 121.7L494.3 121.6L495.0 121.8L495.7 122.0L496.4 121.9L497.1 121.7L497.8 121.9L498.5 122.0L499.2 121.9L499.9 121.7L500.6 121.9L501.3 122.1L502.0 121.9L502.7 121.6L503.4 121.7L504.1 121.8L504.8 122.1L505.5 122.2L506.2 121.7L506.9 121.6L507.6 122.0L508.3 122.2L509.0 122.0" stroke="#dc7024" stroke-width="1.9" fill="none" stroke-linejoin="round"/>
<path d="M299.0 160.6L299.7 160.6L300.4 160.6L301.1 160.6L301.8 160.6L302.5 160.5L303.2 160.5L303.9 160.5L304.6 160.5L305.3 160.5L306.0 160.5L306.7 160.5L307.4 160.5L308.1 160.4L308.8 160.4L309.5 160.4L310.2 160.4L310.9 160.4L311.6 160.4L312.3 160.3L313.0 160.3L313.7 160.3L314.4 160.3L315.1 160.3L315.8 160.2L316.5 160.2L317.2 160.2L317.9 160.1L318.6 160.1L319.3 160.1L320.0 160.0L320.7 160.0L321.4 159.9L322.1 159.9L322.8 159.8L323.5 159.8L324.2 159.7L324.9 159.7L325.6 159.6L326.3 159.5L327.0 159.5L327.7 159.4L328.4 159.3L329.1 159.2L329.8 159.1L330.5 159.0L331.2 158.9L331.9 158.8L332.6 158.7L333.3 158.6L334.0 158.5L334.7 158.3L335.4 158.2L336.1 158.1L336.8 157.9L337.5 157.7L338.2 157.6L338.9 157.4L339.6 157.3L340.3 157.1L341.0 156.9L341.7 156.7L342.4 156.5L343.1 156.3L343.8 156.1L344.5 155.9L345.2 155.7L345.9 155.5L346.6 155.2L347.3 155.0L348.0 154.8L348.7 154.5L349.4 154.3L350.1 154.1L350.8 153.8L351.5 153.6L352.2 153.4L352.9 153.1L353.6 152.9L354.3 152.6L355.0 152.4L355.7 152.2L356.4 151.9L357.1 151.7L357.8 151.5L358.5 151.3L359.2 151.1L359.9 150.9L360.6 150.7L361.3 150.5L362.0 150.3L362.7 150.1L363.4 150.0L364.1 149.8L364.8 149.7L365.5 149.5L366.2 149.4L366.9 149.3L367.6 149.2L368.3 149.1L369.0 149.1L369.7 149.0L370.4 149.0L371.1 148.9L371.8 148.9L372.5 148.9L373.2 148.9L373.9 148.9L374.6 149.0L375.3 149.0L376.0 149.1L376.7 149.2L377.4 149.2L378.1 149.3L378.8 149.5L379.5 149.6L380.2 149.7L380.9 149.9L381.6 150.0L382.3 150.2L383.0 150.3L383.7 150.5L384.4 150.7L385.1 150.9L385.8 151.1L386.5 151.3L387.2 151.5L387.9 151.7L388.6 152.0L389.3 152.2L390.0 152.4L390.7 152.6L391.4 152.8L392.1 153.1L392.8 153.3L393.5 153.5L394.2 153.8L394.9 154.0L395.6 154.2L396.3 154.4L397.0 154.6L397.7 154.8L398.4 155.1L399.1 155.3L399.8 155.5L400.5 155.6L401.2 155.8L401.9 156.0L402.6 156.2L403.3 156.4L404.0 156.5L404.7 156.7L405.4 156.9L406.1 157.0L406.8 157.2L407.5 157.3L408.2 157.4L408.9 157.5L409.6 157.7L410.3 157.8L411.0 157.9L411.7 158.0L412.4 158.1L413.1 158.2L413.8 158.3L414.5 158.3L415.2 158.4L415.9 158.5L416.6 158.6L417.3 158.6L418.0 158.7L418.7 158.7L419.4 158.8L420.1 158.8L420.8 158.9L421.5 158.9L422.2 159.0L422.9 159.0L423.6 159.0L424.3 159.0L425.0 159.1L425.7 159.1L426.4 159.1L427.1 159.1L427.8 159.1L428.5 159.2L429.2 159.2L429.9 159.2L430.6 159.2L431.3 159.2L432.0 159.2L432.7 159.2L433.4 159.2L434.1 159.2L434.8 159.2L435.5 159.2L436.2 159.2L436.9 159.2L437.6 159.2L438.3 159.2L439.0 159.2L439.7 159.2L440.4 159.2L441.1 159.2L441.8 159.2L442.5 159.2L443.2 159.2L443.9 159.2L444.6 159.2L445.3 159.2L446.0 159.2L446.7 159.2L447.4 159.2L448.1 159.2L448.8 159.2L449.5 159.2L450.2 159.2L450.9 159.1L451.6 159.1L452.3 159.1L453.0 159.1L453.7 159.1L454.4 159.1L455.1 159.1L455.8 159.1L456.5 159.1L457.2 159.1L457.9 159.1L458.6 159.1L459.3 159.1L460.0 159.1L460.7 159.1L461.4 159.1L462.1 159.0L462.8 159.0L463.5 159.0L464.2 159.0L464.9 159.0L465.6 159.0L466.3 159.0L467.0 159.0L467.7 159.0L468.4 159.0L469.1 159.0L469.8 159.0L470.5 159.0L471.2 159.0L471.9 159.0L472.6 158.9L473.3 158.9L474.0 158.9L474.7 158.9L475.4 158.9L476.1 158.9L476.8 158.9L477.5 158.9L478.2 158.9L478.9 158.9L479.6 158.9L480.3 158.9L481.0 158.9L481.7 158.9L482.4 158.9L483.1 158.8L483.8 158.8L484.5 158.8L485.2 158.8L485.9 158.8L486.6 158.8L487.3 158.8L488.0 158.8L488.7 158.8L489.4 158.8L490.1 158.8L490.8 158.8L491.5 158.8L492.2 158.8L492.9 158.8L493.6 158.7L494.3 158.7L495.0 158.7L495.7 158.7L496.4 158.7L497.1 158.7L497.8 158.7L498.5 158.7L499.2 158.7L499.9 158.7L500.6 158.7L501.3 158.7L502.0 158.7L502.7 158.7L503.4 158.7L504.1 158.6L504.8 158.6L505.5 158.6L506.2 158.6L506.9 158.6L507.6 158.6L508.3 158.6L509.0 158.6" stroke="#30c090" stroke-width="1.1" fill="none"/>
<path d="M299.0 160.6L299.7 160.6L300.4 160.6L301.1 160.6L301.8 160.6L302.5 160.6L303.2 160.6L303.9 160.6L304.6 160.5L305.3 160.5L306.0 160.5L306.7 160.5L307.4 160.5L308.1 160.5L308.8 160.5L309.5 160.5L310.2 160.5L310.9 160.5L311.6 160.5L312.3 160.5L313.0 160.5L313.7 160.5L314.4 160.5L315.1 160.4L315.8 160.4L316.5 160.4L317.2 160.4L317.9 160.4L318.6 160.4L319.3 160.4L320.0 160.4L320.7 160.4L321.4 160.4L322.1 160.4L322.8 160.4L323.5 160.4L324.2 160.4L324.9 160.4L325.6 160.3L326.3 160.3L327.0 160.3L327.7 160.3L328.4 160.3L329.1 160.3L329.8 160.3L330.5 160.3L331.2 160.3L331.9 160.3L332.6 160.3L333.3 160.3L334.0 160.3L334.7 160.3L335.4 160.3L336.1 160.2L336.8 160.2L337.5 160.2L338.2 160.2L338.9 160.2L339.6 160.2L340.3 160.2L341.0 160.2L341.7 160.2L342.4 160.2L343.1 160.2L343.8 160.2L344.5 160.2L345.2 160.2L345.9 160.2L346.6 160.1L347.3 160.1L348.0 160.1L348.7 160.1L349.4 160.1L350.1 160.1L350.8 160.1L351.5 160.1L352.2 160.1L352.9 160.1L353.6 160.1L354.3 160.1L355.0 160.1L355.7 160.1L356.4 160.1L357.1 160.0L357.8 160.0L358.5 160.0L359.2 160.0L359.9 160.0L360.6 160.0L361.3 160.0L362.0 160.0L362.7 160.0L363.4 160.0L364.1 160.0L364.8 160.0L365.5 160.0L366.2 160.0L366.9 159.9L367.6 159.9L368.3 159.9L369.0 159.9L369.7 159.9L370.4 159.9L371.1 159.9L371.8 159.9L372.5 159.9L373.2 159.9L373.9 159.8L374.6 159.8L375.3 159.8L376.0 159.8L376.7 159.8L377.4 159.8L378.1 159.8L378.8 159.7L379.5 159.7L380.2 159.7L380.9 159.7L381.6 159.6L382.3 159.6L383.0 159.6L383.7 159.5L384.4 159.5L385.1 159.4L385.8 159.4L386.5 159.3L387.2 159.3L387.9 159.2L388.6 159.1L389.3 159.0L390.0 158.9L390.7 158.8L391.4 158.7L392.1 158.6L392.8 158.5L393.5 158.3L394.2 158.2L394.9 158.0L395.6 157.8L396.3 157.6L397.0 157.4L397.7 157.2L398.4 157.0L399.1 156.7L399.8 156.5L400.5 156.2L401.2 155.9L401.9 155.6L402.6 155.2L403.3 154.9L404.0 154.5L404.7 154.1L405.4 153.7L406.1 153.3L406.8 152.9L407.5 152.4L408.2 151.9L408.9 151.5L409.6 151.0L410.3 150.4L411.0 149.9L411.7 149.4L412.4 148.9L413.1 148.3L413.8 147.8L414.5 147.2L415.2 146.7L415.9 146.1L416.6 145.6L417.3 145.0L418.0 144.5L418.7 144.0L419.4 143.5L420.1 143.0L420.8 142.5L421.5 142.1L422.2 141.6L422.9 141.2L423.6 140.8L424.3 140.5L425.0 140.2L425.7 139.9L426.4 139.6L427.1 139.4L427.8 139.2L428.5 139.1L429.2 138.9L429.9 138.9L430.6 138.8L431.3 138.9L432.0 138.9L432.7 139.0L433.4 139.1L434.1 139.3L434.8 139.5L435.5 139.7L436.2 140.0L436.9 140.3L437.6 140.6L438.3 141.0L439.0 141.3L439.7 141.8L440.4 142.2L441.1 142.7L441.8 143.1L442.5 143.6L443.2 144.1L443.9 144.6L444.6 145.2L445.3 145.7L446.0 146.2L446.7 146.8L447.4 147.3L448.1 147.8L448.8 148.4L449.5 148.9L450.2 149.4L450.9 149.9L451.6 150.4L452.3 150.9L453.0 151.4L453.7 151.8L454.4 152.3L455.1 152.7L455.8 153.1L456.5 153.5L457.2 153.9L457.9 154.3L458.6 154.6L459.3 154.9L460.0 155.2L460.7 155.5L461.4 155.8L462.1 156.1L462.8 156.3L463.5 156.5L464.2 156.7L464.9 156.9L465.6 157.1L466.3 157.3L467.0 157.4L467.7 157.6L468.4 157.7L469.1 157.8L469.8 157.9L470.5 158.0L471.2 158.1L471.9 158.2L472.6 158.3L473.3 158.3L474.0 158.4L474.7 158.5L475.4 158.5L476.1 158.5L476.8 158.6L477.5 158.6L478.2 158.6L478.9 158.7L479.6 158.7L480.3 158.7L481.0 158.7L481.7 158.7L482.4 158.7L483.1 158.8L483.8 158.8L484.5 158.8L485.2 158.8L485.9 158.8L486.6 158.8L487.3 158.8L488.0 158.8L488.7 158.8L489.4 158.8L490.1 158.8L490.8 158.8L491.5 158.8L492.2 158.7L492.9 158.7L493.6 158.7L494.3 158.7L495.0 158.7L495.7 158.7L496.4 158.7L497.1 158.7L497.8 158.7L498.5 158.7L499.2 158.7L499.9 158.7L500.6 158.7L501.3 158.7L502.0 158.7L502.7 158.7L503.4 158.7L504.1 158.6L504.8 158.6L505.5 158.6L506.2 158.6L506.9 158.6L507.6 158.6L508.3 158.6L509.0 158.6" stroke="#30c090" stroke-width="1.1" fill="none"/>
<path d="M299.0 160.7L299.7 160.5L300.4 160.3L301.1 160.2L301.8 160.3L302.5 160.5L303.2 160.7L303.9 160.9L304.6 160.7L305.3 160.5L306.0 160.7L306.7 160.9L307.4 160.6L308.1 160.3L308.8 160.5L309.5 160.6L310.2 160.4L310.9 160.3L311.6 160.5L312.3 160.4L313.0 160.1L313.7 160.1L314.4 160.1L315.1 160.2L315.8 160.4L316.5 160.5L317.2 160.3L317.9 160.0L318.6 160.1L319.3 160.3L320.0 160.3L320.7 160.2L321.4 159.8L322.1 159.8L322.8 159.8L323.5 159.5L324.2 159.3L324.9 159.6L325.6 159.5L326.3 159.3L327.0 159.1L327.7 158.9L328.4 158.9L329.1 159.1L329.8 159.0L330.5 158.7L331.2 158.7L331.9 158.6L332.6 158.5L333.3 158.6L334.0 158.4L334.7 158.2L335.4 158.3L336.1 158.1L336.8 157.9L337.5 157.9L338.2 157.8L338.9 157.6L339.6 157.3L340.3 157.1L341.0 157.0L341.7 156.6L342.4 156.5L343.1 156.6L343.8 156.3L344.5 156.1L345.2 156.1L345.9 155.6L346.6 155.2L347.3 155.0L348.0 154.7L348.7 154.7L349.4 154.6L350.1 154.0L350.8 153.7L351.5 153.6L352.2 153.3L352.9 153.0L353.6 152.7L354.3 152.3L355.0 152.1L355.7 152.0L356.4 151.9L357.1 151.6L357.8 151.4L358.5 151.3L359.2 151.0L359.9 150.6L360.6 150.3L361.3 150.2L362.0 150.2L362.7 150.0L363.4 150.0L364.1 150.1L364.8 150.1L365.5 149.9L366.2 149.4L366.9 149.2L367.6 149.3L368.3 149.4L369.0 149.3L369.7 149.2L370.4 149.2L371.1 149.2L371.8 149.1L372.5 149.1L373.2 149.0L373.9 149.0L374.6 149.1L375.3 149.1L376.0 149.2L376.7 149.3L377.4 149.4L378.1 149.4L378.8 149.4L379.5 149.6L380.2 149.9L380.9 149.7L381.6 149.5L382.3 149.7L383.0 150.2L383.7 150.6L384.4 150.7L385.1 150.6L385.8 150.6L386.5 150.9L387.2 151.3L387.9 151.5L388.6 151.4L389.3 151.5L390.0 151.6L390.7 151.6L391.4 151.7L392.1 151.7L392.8 151.7L393.5 152.1L394.2 152.3L394.9 152.2L395.6 152.2L396.3 152.5L397.0 152.7L397.7 152.7L398.4 152.7L399.1 152.4L399.8 152.4L400.5 152.2L401.2 152.1L401.9 151.9L402.6 151.9L403.3 151.8L404.0 151.6L404.7 151.2L405.4 151.0L406.1 150.7L406.8 150.3L407.5 150.0L408.2 149.7L408.9 149.3L409.6 149.0L410.3 148.7L411.0 148.7L411.7 148.3L412.4 147.6L413.1 147.2L413.8 146.9L414.5 146.3L415.2 145.6L415.9 145.2L416.6 144.9L417.3 144.5L418.0 144.0L418.7 143.6L419.4 142.9L420.1 142.3L420.8 142.0L421.5 141.7L422.2 141.2L422.9 140.8L423.6 140.7L424.3 140.3L425.0 139.7L425.7 139.3L426.4 139.1L427.1 139.0L427.8 138.9L428.5 138.7L429.2 138.6L429.9 138.5L430.6 138.6L431.3 138.9L432.0 138.9L432.7 138.7L433.4 138.8L434.1 139.1L434.8 139.4L435.5 139.5L436.2 139.7L436.9 140.1L437.6 140.6L438.3 141.0L439.0 141.3L439.7 141.8L440.4 142.0L441.1 142.4L441.8 143.1L442.5 143.7L443.2 144.2L443.9 144.9L444.6 145.3L445.3 145.5L446.0 146.1L446.7 147.1L447.4 147.6L448.1 147.7L448.8 148.0L449.5 148.6L450.2 149.1L450.9 149.6L451.6 150.2L452.3 150.6L453.0 151.1L453.7 151.8L454.4 152.2L455.1 152.7L455.8 153.3L456.5 153.7L457.2 153.9L457.9 154.2L458.6 154.6L459.3 155.2L460.0 155.4L460.7 155.4L461.4 155.8L462.1 156.2L462.8 156.6L463.5 157.0L464.2 157.1L464.9 157.0L465.6 156.9L466.3 157.1L467.0 157.4L467.7 157.9L468.4 158.2L469.1 157.9L469.8 157.5L470.5 157.7L471.2 158.0L471.9 157.9L472.6 158.0L473.3 158.2L474.0 158.4L474.7 158.4L475.4 158.4L476.1 158.6L476.8 158.5L477.5 158.4L478.2 158.3L478.9 158.5L479.6 158.6L480.3 158.5L481.0 158.6L481.7 158.8L482.4 158.8L483.1 158.7L483.8 158.7L484.5 159.0L485.2 159.1L485.9 158.8L486.6 158.4L487.3 158.5L488.0 159.0L488.7 159.2L489.4 159.1L490.1 159.0L490.8 158.7L491.5 158.7L492.2 158.8L492.9 158.7L493.6 158.6L494.3 158.9L495.0 158.9L495.7 158.5L496.4 158.4L497.1 158.6L497.8 158.4L498.5 158.3L499.2 158.6L499.9 158.7L500.6 158.8L501.3 159.0L502.0 158.8L502.7 158.5L503.4 158.5L504.1 158.4L504.8 158.4L505.5 158.6L506.2 158.5L506.9 158.6L507.6 158.9L508.3 159.0L509.0 158.8" stroke="#1a5a24" stroke-width="1.9" fill="none" stroke-linejoin="round"/>
<path d="M299.0 193.0L299.7 193.0L300.4 192.9L301.1 192.9L301.8 192.9L302.5 192.9L303.2 192.9L303.9 192.9L304.6 192.9L305.3 192.8L306.0 192.8L306.7 192.8L307.4 192.8L308.1 192.8L308.8 192.8L309.5 192.7L310.2 192.7L310.9 192.7L311.6 192.7L312.3 192.6L313.0 192.6L313.7 192.6L314.4 192.6L315.1 192.5L315.8 192.5L316.5 192.5L317.2 192.4L317.9 192.4L318.6 192.4L319.3 192.3L320.0 192.3L320.7 192.2L321.4 192.2L322.1 192.2L322.8 192.1L323.5 192.0L324.2 192.0L324.9 191.9L325.6 191.9L326.3 191.8L327.0 191.7L327.7 191.6L328.4 191.6L329.1 191.5L329.8 191.4L330.5 191.3L331.2 191.2L331.9 191.1L332.6 191.0L333.3 190.9L334.0 190.8L334.7 190.7L335.4 190.5L336.1 190.4L336.8 190.3L337.5 190.1L338.2 190.0L338.9 189.8L339.6 189.6L340.3 189.5L341.0 189.3L341.7 189.1L342.4 188.9L343.1 188.7L343.8 188.5L344.5 188.3L345.2 188.1L345.9 187.9L346.6 187.6L347.3 187.4L348.0 187.2L348.7 186.9L349.4 186.7L350.1 186.4L350.8 186.1L351.5 185.8L352.2 185.6L352.9 185.3L353.6 185.0L354.3 184.7L355.0 184.4L355.7 184.1L356.4 183.8L357.1 183.5L357.8 183.1L358.5 182.8L359.2 182.5L359.9 182.2L360.6 181.8L361.3 181.5L362.0 181.2L362.7 180.9L363.4 180.5L364.1 180.2L364.8 179.9L365.5 179.6L366.2 179.2L366.9 178.9L367.6 178.6L368.3 178.3L369.0 178.0L369.7 177.7L370.4 177.4L371.1 177.1L371.8 176.9L372.5 176.6L373.2 176.3L373.9 176.1L374.6 175.8L375.3 175.6L376.0 175.4L376.7 175.2L377.4 175.0L378.1 174.8L378.8 174.7L379.5 174.5L380.2 174.4L380.9 174.2L381.6 174.1L382.3 174.0L383.0 173.9L383.7 173.9L384.4 173.8L385.1 173.8L385.8 173.8L386.5 173.8L387.2 173.8L387.9 173.8L388.6 173.8L389.3 173.9L390.0 173.9L390.7 174.0L391.4 174.1L392.1 174.2L392.8 174.4L393.5 174.5L394.2 174.7L394.9 174.8L395.6 175.0L396.3 175.2L397.0 175.4L397.7 175.6L398.4 175.8L399.1 176.1L399.8 176.3L400.5 176.6L401.2 176.8L401.9 177.1L402.6 177.3L403.3 177.6L404.0 177.9L404.7 178.2L405.4 178.5L406.1 178.8L406.8 179.1L407.5 179.4L408.2 179.7L408.9 180.0L409.6 180.3L410.3 180.6L411.0 180.9L411.7 181.2L412.4 181.6L413.1 181.9L413.8 182.2L414.5 182.5L415.2 182.8L415.9 183.0L416.6 183.3L417.3 183.6L418.0 183.9L418.7 184.2L419.4 184.4L420.1 184.7L420.8 185.0L421.5 185.2L422.2 185.5L422.9 185.7L423.6 185.9L424.3 186.2L425.0 186.4L425.7 186.6L426.4 186.8L427.1 187.0L427.8 187.2L428.5 187.4L429.2 187.6L429.9 187.8L430.6 187.9L431.3 188.1L432.0 188.2L432.7 188.4L433.4 188.5L434.1 188.7L434.8 188.8L435.5 188.9L436.2 189.0L436.9 189.1L437.6 189.2L438.3 189.3L439.0 189.4L439.7 189.5L440.4 189.6L441.1 189.7L441.8 189.8L442.5 189.8L443.2 189.9L443.9 189.9L444.6 190.0L445.3 190.1L446.0 190.1L446.7 190.2L447.4 190.2L448.1 190.2L448.8 190.3L449.5 190.3L450.2 190.3L450.9 190.4L451.6 190.4L452.3 190.4L453.0 190.4L453.7 190.5L454.4 190.5L455.1 190.5L455.8 190.5L456.5 190.5L457.2 190.5L457.9 190.5L458.6 190.5L459.3 190.5L460.0 190.5L460.7 190.5L461.4 190.6L462.1 190.6L462.8 190.6L463.5 190.6L464.2 190.6L464.9 190.5L465.6 190.5L466.3 190.5L467.0 190.5L467.7 190.5L468.4 190.5L469.1 190.5L469.8 190.5L470.5 190.5L471.2 190.5L471.9 190.5L472.6 190.5L473.3 190.5L474.0 190.5L474.7 190.5L475.4 190.5L476.1 190.5L476.8 190.4L477.5 190.4L478.2 190.4L478.9 190.4L479.6 190.4L480.3 190.4L481.0 190.4L481.7 190.4L482.4 190.4L483.1 190.4L483.8 190.4L484.5 190.3L485.2 190.3L485.9 190.3L486.6 190.3L487.3 190.3L488.0 190.3L488.7 190.3L489.4 190.3L490.1 190.3L490.8 190.3L491.5 190.2L492.2 190.2L492.9 190.2L493.6 190.2L494.3 190.2L495.0 190.2L495.7 190.2L496.4 190.2L497.1 190.2L497.8 190.2L498.5 190.1L499.2 190.1L499.9 190.1L500.6 190.1L501.3 190.1L502.0 190.1L502.7 190.1L503.4 190.1L504.1 190.1L504.8 190.1L505.5 190.0L506.2 190.0L506.9 190.0L507.6 190.0L508.3 190.0L509.0 190.0" stroke="#4a64d4" stroke-width="1.1" fill="none"/>
<path d="M299.0 193.0L299.7 193.0L300.4 193.0L301.1 193.0L301.8 193.0L302.5 192.9L303.2 192.9L303.9 192.9L304.6 192.9L305.3 192.9L306.0 192.9L306.7 192.9L307.4 192.9L308.1 192.9L308.8 192.9L309.5 192.8L310.2 192.8L310.9 192.8L311.6 192.8L312.3 192.8L313.0 192.8L313.7 192.8L314.4 192.8L315.1 192.8L315.8 192.8L316.5 192.7L317.2 192.7L317.9 192.7L318.6 192.7L319.3 192.7L320.0 192.7L320.7 192.7L321.4 192.7L322.1 192.7L322.8 192.7L323.5 192.6L324.2 192.6L324.9 192.6L325.6 192.6L326.3 192.6L327.0 192.6L327.7 192.6L328.4 192.6L329.1 192.6L329.8 192.6L330.5 192.5L331.2 192.5L331.9 192.5L332.6 192.5L333.3 192.5L334.0 192.5L334.7 192.5L335.4 192.5L336.1 192.5L336.8 192.5L337.5 192.4L338.2 192.4L338.9 192.4L339.6 192.4L340.3 192.4L341.0 192.4L341.7 192.4L342.4 192.4L343.1 192.4L343.8 192.4L344.5 192.3L345.2 192.3L345.9 192.3L346.6 192.3L347.3 192.3L348.0 192.3L348.7 192.3L349.4 192.3L350.1 192.3L350.8 192.3L351.5 192.2L352.2 192.2L352.9 192.2L353.6 192.2L354.3 192.2L355.0 192.2L355.7 192.2L356.4 192.2L357.1 192.2L357.8 192.2L358.5 192.1L359.2 192.1L359.9 192.1L360.6 192.1L361.3 192.1L362.0 192.1L362.7 192.1L363.4 192.1L364.1 192.1L364.8 192.1L365.5 192.0L366.2 192.0L366.9 192.0L367.6 192.0L368.3 192.0L369.0 192.0L369.7 192.0L370.4 192.0L371.1 192.0L371.8 192.0L372.5 191.9L373.2 191.9L373.9 191.9L374.6 191.9L375.3 191.9L376.0 191.9L376.7 191.9L377.4 191.9L378.1 191.9L378.8 191.8L379.5 191.8L380.2 191.8L380.9 191.8L381.6 191.8L382.3 191.8L383.0 191.7L383.7 191.7L384.4 191.7L385.1 191.7L385.8 191.6L386.5 191.6L387.2 191.6L387.9 191.6L388.6 191.5L389.3 191.5L390.0 191.4L390.7 191.4L391.4 191.3L392.1 191.2L392.8 191.2L393.5 191.1L394.2 191.0L394.9 190.9L395.6 190.8L396.3 190.6L397.0 190.5L397.7 190.3L398.4 190.2L399.1 190.0L399.8 189.8L400.5 189.5L401.2 189.3L401.9 189.0L402.6 188.7L403.3 188.4L404.0 188.1L404.7 187.7L405.4 187.3L406.1 186.9L406.8 186.5L407.5 186.0L408.2 185.5L408.9 185.0L409.6 184.5L410.3 183.9L411.0 183.3L411.7 182.6L412.4 182.0L413.1 181.3L413.8 180.6L414.5 179.9L415.2 179.2L415.9 178.5L416.6 177.7L417.3 177.0L418.0 176.2L418.7 175.5L419.4 174.7L420.1 174.0L420.8 173.3L421.5 172.6L422.2 171.9L422.9 171.2L423.6 170.6L424.3 170.0L425.0 169.4L425.7 168.9L426.4 168.4L427.1 168.0L427.8 167.6L428.5 167.3L429.2 167.1L429.9 166.9L430.6 166.7L431.3 166.6L432.0 166.6L432.7 166.6L433.4 166.7L434.1 166.9L434.8 167.1L435.5 167.4L436.2 167.7L436.9 168.1L437.6 168.5L438.3 169.0L439.0 169.5L439.7 170.1L440.4 170.7L441.1 171.3L441.8 172.0L442.5 172.7L443.2 173.4L443.9 174.1L444.6 174.8L445.3 175.5L446.0 176.3L446.7 177.0L447.4 177.7L448.1 178.4L448.8 179.1L449.5 179.8L450.2 180.5L450.9 181.2L451.6 181.8L452.3 182.4L453.0 183.0L453.7 183.6L454.4 184.1L455.1 184.6L455.8 185.1L456.5 185.6L457.2 186.0L457.9 186.4L458.6 186.8L459.3 187.2L460.0 187.5L460.7 187.8L461.4 188.1L462.1 188.3L462.8 188.5L463.5 188.8L464.2 189.0L464.9 189.1L465.6 189.3L466.3 189.4L467.0 189.6L467.7 189.7L468.4 189.8L469.1 189.9L469.8 189.9L470.5 190.0L471.2 190.1L471.9 190.1L472.6 190.2L473.3 190.2L474.0 190.2L474.7 190.3L475.4 190.3L476.1 190.3L476.8 190.3L477.5 190.3L478.2 190.3L478.9 190.3L479.6 190.3L480.3 190.3L481.0 190.3L481.7 190.3L482.4 190.3L483.1 190.3L483.8 190.3L484.5 190.3L485.2 190.3L485.9 190.3L486.6 190.3L487.3 190.3L488.0 190.3L488.7 190.3L489.4 190.3L490.1 190.3L490.8 190.3L491.5 190.2L492.2 190.2L492.9 190.2L493.6 190.2L494.3 190.2L495.0 190.2L495.7 190.2L496.4 190.2L497.1 190.2L497.8 190.2L498.5 190.1L499.2 190.1L499.9 190.1L500.6 190.1L501.3 190.1L502.0 190.1L502.7 190.1L503.4 190.1L504.1 190.1L504.8 190.1L505.5 190.0L506.2 190.0L506.9 190.0L507.6 190.0L508.3 190.0L509.0 190.0" stroke="#4a64d4" stroke-width="1.1" fill="none"/>
<path d="M299.0 193.1L299.7 193.2L300.4 193.2L301.1 193.2L301.8 193.2L302.5 192.9L303.2 192.6L303.9 192.6L304.6 192.7L305.3 193.0L306.0 193.1L306.7 192.8L307.4 192.7L308.1 192.7L308.8 192.5L309.5 192.5L310.2 192.5L310.9 192.4L311.6 192.5L312.3 192.6L313.0 192.4L313.7 192.2L314.4 192.4L315.1 192.6L315.8 192.6L316.5 192.7L317.2 192.7L317.9 192.3L318.6 192.2L319.3 192.6L320.0 192.6L320.7 192.2L321.4 192.2L322.1 192.3L322.8 192.4L323.5 192.4L324.2 192.1L324.9 191.9L325.6 191.9L326.3 192.0L327.0 191.6L327.7 191.2L328.4 191.3L329.1 191.6L329.8 191.7L330.5 191.4L331.2 191.2L331.9 191.4L332.6 191.3L333.3 191.1L334.0 191.0L334.7 190.8L335.4 190.5L336.1 190.4L336.8 190.2L337.5 190.1L338.2 190.0L338.9 189.8L339.6 189.8L340.3 189.7L341.0 189.3L341.7 189.0L342.4 188.9L343.1 188.9L343.8 188.7L344.5 188.5L345.2 188.2L345.9 187.9L346.6 187.5L347.3 187.2L348.0 187.2L348.7 187.0L349.4 186.7L350.1 186.6L350.8 186.1L351.5 185.4L352.2 185.2L352.9 185.1L353.6 185.3L354.3 185.2L355.0 184.5L355.7 184.0L356.4 183.8L357.1 183.5L357.8 183.4L358.5 183.0L359.2 182.6L359.9 182.3L360.6 181.8L361.3 181.6L362.0 181.5L362.7 181.0L363.4 180.4L364.1 180.0L364.8 179.7L365.5 179.6L366.2 179.3L366.9 178.8L367.6 178.6L368.3 178.5L369.0 178.2L369.7 178.0L370.4 177.8L371.1 177.4L371.8 177.1L372.5 176.9L373.2 176.5L373.9 176.0L374.6 175.9L375.3 175.6L376.0 175.2L376.7 174.8L377.4 174.5L378.1 174.5L378.8 174.5L379.5 174.4L380.2 174.2L380.9 174.3L381.6 174.2L382.3 173.9L383.0 173.7L383.7 173.5L384.4 173.4L385.1 173.5L385.8 173.6L386.5 173.5L387.2 173.3L387.9 173.4L388.6 173.5L389.3 173.7L390.0 174.1L390.7 173.9L391.4 173.6L392.1 173.4L392.8 173.3L393.5 173.6L394.2 173.9L394.9 174.0L395.6 174.0L396.3 174.1L397.0 174.4L397.7 174.5L398.4 174.4L399.1 174.3L399.8 174.4L400.5 174.5L401.2 174.4L401.9 174.2L402.6 174.1L403.3 174.2L404.0 174.7L404.7 174.8L405.4 174.5L406.1 174.4L406.8 174.2L407.5 173.8L408.2 173.6L408.9 173.5L409.6 173.4L410.3 173.2L411.0 172.7L411.7 172.4L412.4 172.2L413.1 171.8L413.8 171.5L414.5 171.2L415.2 170.8L415.9 170.3L416.6 169.7L417.3 169.1L418.0 169.1L418.7 169.0L419.4 168.4L420.1 167.6L420.8 166.8L421.5 166.3L422.2 165.9L422.9 165.6L423.6 165.4L424.3 164.9L425.0 164.4L425.7 164.0L426.4 163.9L427.1 163.8L427.8 163.5L428.5 163.5L429.2 163.7L429.9 163.3L430.6 163.1L431.3 163.5L432.0 164.1L432.7 164.4L433.4 164.4L434.1 164.3L434.8 164.8L435.5 165.3L436.2 165.8L436.9 166.5L437.6 167.1L438.3 167.5L439.0 168.1L439.7 168.9L440.4 169.6L441.1 170.1L441.8 170.9L442.5 171.5L443.2 172.1L443.9 173.0L444.6 173.8L445.3 174.3L446.0 175.0L446.7 176.1L447.4 177.4L448.1 178.3L448.8 178.9L449.5 179.5L450.2 180.0L450.9 180.7L451.6 181.3L452.3 181.8L453.0 182.4L453.7 183.1L454.4 183.7L455.1 184.2L455.8 184.8L456.5 185.4L457.2 185.9L457.9 186.3L458.6 186.6L459.3 187.0L460.0 187.2L460.7 187.5L461.4 187.9L462.1 188.3L462.8 188.7L463.5 188.8L464.2 188.6L464.9 188.8L465.6 189.1L466.3 189.3L467.0 189.4L467.7 189.6L468.4 189.8L469.1 189.8L469.8 189.8L470.5 190.2L471.2 190.3L471.9 190.2L472.6 190.2L473.3 190.2L474.0 190.3L474.7 190.2L475.4 190.1L476.1 190.1L476.8 190.2L477.5 190.3L478.2 190.4L478.9 190.3L479.6 189.9L480.3 189.7L481.0 189.9L481.7 190.0L482.4 190.3L483.1 190.6L483.8 190.4L484.5 190.3L485.2 190.2L485.9 190.2L486.6 190.1L487.3 190.1L488.0 190.2L488.7 190.4L489.4 190.5L490.1 190.4L490.8 190.3L491.5 190.2L492.2 190.3L492.9 190.4L493.6 190.4L494.3 190.3L495.0 190.0L495.7 190.1L496.4 190.4L497.1 190.2L497.8 190.2L498.5 190.5L499.2 190.5L499.9 190.3L500.6 190.3L501.3 190.5L502.0 190.4L502.7 190.2L503.4 190.0L504.1 189.7L504.8 189.7L505.5 190.0L506.2 190.1L506.9 189.9L507.6 189.7L508.3 189.6L509.0 189.8" stroke="#20209e" stroke-width="1.9" fill="none" stroke-linejoin="round"/>
<path d="M378.8 82V230M430.3 38V230" stroke="#000" stroke-width="1.7" stroke-dasharray="5 2.2 1.3 2.2" fill="none"/>
<path d="M47.7 373.6L48.4 373.9L49.1 374.3L49.8 374.5L50.5 374.1L51.2 373.7L51.9 373.3L52.6 373.0L53.3 373.4L54.0 373.8L54.7 374.0L55.4 374.0L56.1 373.9L56.8 373.9L57.5 374.0L58.2 373.9L58.9 373.6L59.6 373.4L60.3 373.6L61.0 374.0L61.7 374.1L62.4 373.8L63.1 373.5L63.8 373.5L64.5 373.5L65.2 373.5L65.9 373.5L66.6 373.5L67.3 373.4L68.0 373.5L68.7 373.4L69.4 373.2L70.1 373.1L70.8 373.1L71.5 373.1L72.2 373.0L72.9 372.8L73.6 372.6L74.3 372.4L75.0 372.4L75.7 372.3L76.4 372.3L77.1 372.1L77.8 371.6L78.5 371.4L79.2 371.4L79.9 371.2L80.6 371.1L81.3 371.1L82.0 370.9L82.7 370.7L83.4 370.4L84.1 370.1L84.8 369.7L85.5 369.4L86.2 369.2L86.9 368.6L87.6 368.0L88.3 367.4L89.0 367.1L89.7 366.6L90.4 365.9L91.1 365.2L91.8 364.9L92.5 364.4L93.2 363.4L93.9 362.4L94.6 361.4L95.3 360.2L96.0 359.4L96.7 358.8L97.4 357.9L98.1 356.6L98.8 355.2L99.5 354.0L100.2 352.8L100.9 351.5L101.6 350.0L102.3 348.5L103.0 347.2L103.7 346.1L104.4 344.7L105.1 342.9L105.8 341.1L106.5 339.5L107.2 337.8L107.9 336.0L108.6 334.1L109.3 332.2L110.0 330.4L110.7 328.6L111.4 326.9L112.1 325.2L112.8 323.3L113.5 321.7L114.2 320.3L114.9 319.1L115.6 318.1L116.3 317.1L117.0 316.2L117.7 315.8L118.4 315.4L119.1 314.9L119.8 314.8L120.5 314.5L121.2 314.2L121.9 314.5L122.6 314.8L123.3 315.1L124.0 315.4L124.7 315.6L125.4 315.9L126.1 316.4L126.8 317.0L127.5 317.6L128.2 318.0L128.9 318.6L129.6 319.4L130.3 319.9L131.0 320.3L131.7 320.4L132.4 320.8L133.1 321.1L133.8 321.3L134.5 321.5L135.2 321.7L135.9 321.8L136.6 321.7L137.3 321.8L138.0 321.7L138.7 321.3L139.4 320.8L140.1 320.1L140.8 319.3L141.5 318.5L142.2 317.8L142.9 316.9L143.6 315.8L144.3 314.6L145.0 313.5L145.7 312.4L146.4 311.2L147.1 309.7L147.8 308.3L148.5 307.5L149.2 306.4L149.9 305.1L150.6 304.1L151.3 303.5L152.0 303.3L152.7 302.7L153.4 302.0L154.1 301.9L154.8 302.1L155.5 302.3L156.2 302.2L156.9 302.3L157.6 303.2L158.3 304.1L159.0 305.0L159.7 306.0L160.4 307.7L161.1 309.3L161.8 310.6L162.5 312.4L163.2 314.3L163.9 316.4L164.6 318.3L165.3 320.3L166.0 322.6L166.7 324.7L167.4 326.8L168.1 329.2L168.8 331.4L169.5 333.8L170.2 336.6L170.9 338.9L171.6 341.1L172.3 343.5L173.0 345.7L173.7 347.9L174.4 350.3L175.1 352.4L175.8 354.5L176.5 356.4L177.2 357.9L177.9 359.4L178.6 360.6L179.3 361.6L180.0 362.7L180.7 363.7L181.4 364.8L182.1 365.7L182.8 366.3L183.5 366.9L184.2 367.6L184.9 368.4L185.6 369.1L186.3 369.7L187.0 370.2L187.7 371.0L188.4 371.5L189.1 371.9L189.8 372.4L190.5 372.7L191.2 372.9L191.9 373.2L192.6 373.4L193.3 373.7L194.0 374.2L194.7 374.7L195.4 374.9L196.1 375.0L196.8 375.2L197.5 375.3L198.2 375.4L198.9 375.6L199.6 375.9L200.3 376.2L201.0 376.0L201.7 375.8L202.4 376.1L203.1 376.2L203.8 375.9L204.5 375.9L205.2 376.4L205.9 376.9L206.6 376.9L207.3 377.1L208.0 377.2L208.7 377.1L209.4 377.1L210.1 377.0L210.8 377.1L211.5 377.4L212.2 377.3L212.9 377.2L213.6 377.3L214.3 377.4L215.0 377.4L215.7 377.5L216.4 377.4L217.1 377.3L217.8 377.5L218.5 377.8L219.2 377.7L219.9 377.8L220.6 378.1L221.3 378.0L222.0 377.8L222.7 377.9L223.4 378.1L224.1 378.2L224.8 378.0L225.5 378.0L226.2 378.4L226.9 378.6L227.6 378.4L228.3 378.3L229.0 378.4L229.7 378.5L230.4 378.5L231.1 378.3L231.8 378.4L232.5 378.4L233.2 378.4L233.9 378.5L234.6 378.6L235.3 378.6L236.0 378.6L236.7 378.5L237.4 378.6L238.1 378.8L238.8 379.0L239.5 378.9L240.2 378.6L240.9 378.5L241.6 378.8L242.3 379.2L243.0 379.4L243.7 379.2L244.4 378.9L245.1 379.0L245.8 378.9" stroke="#2e0810" stroke-width="1.7" fill="none" stroke-linejoin="round"/>
<path d="M47.7 388.8L48.4 389.2L49.1 389.1L49.8 389.0L50.5 389.1L51.2 389.2L51.9 389.1L52.6 388.9L53.3 388.6L54.0 388.6L54.7 389.0L55.4 389.2L56.1 389.0L56.8 388.8L57.5 388.7L58.2 388.8L58.9 389.0L59.6 389.0L60.3 388.9L61.0 388.9L61.7 388.9L62.4 388.9L63.1 388.7L63.8 388.5L64.5 388.7L65.2 388.9L65.9 388.6L66.6 388.4L67.3 388.6L68.0 388.6L68.7 388.3L69.4 388.1L70.1 388.0L70.8 387.9L71.5 387.8L72.2 388.0L72.9 387.9L73.6 388.1L74.3 388.3L75.0 388.0L75.7 387.5L76.4 387.1L77.1 386.8L77.8 386.7L78.5 386.5L79.2 386.3L79.9 386.2L80.6 386.1L81.3 385.8L82.0 385.4L82.7 385.3L83.4 385.4L84.1 385.3L84.8 385.1L85.5 384.7L86.2 384.1L86.9 383.6L87.6 383.1L88.3 383.0L89.0 382.5L89.7 381.5L90.4 380.8L91.1 380.1L91.8 379.3L92.5 378.7L93.2 378.2L93.9 377.4L94.6 376.5L95.3 375.7L96.0 374.6L96.7 373.7L97.4 372.6L98.1 371.4L98.8 370.3L99.5 369.2L100.2 368.0L100.9 366.8L101.6 365.4L102.3 363.8L103.0 362.2L103.7 360.5L104.4 358.9L105.1 357.6L105.8 355.9L106.5 354.1L107.2 352.4L107.9 350.5L108.6 348.8L109.3 347.2L110.0 345.3L110.7 343.4L111.4 342.0L112.1 340.4L112.8 338.5L113.5 336.9L114.2 335.4L114.9 334.2L115.6 333.3L116.3 332.2L117.0 331.2L117.7 330.9L118.4 330.5L119.1 329.9L119.8 329.5L120.5 329.5L121.2 329.6L121.9 329.5L122.6 329.6L123.3 329.7L124.0 330.2L124.7 330.7L125.4 331.3L126.1 332.0L126.8 332.6L127.5 333.1L128.2 333.6L128.9 333.7L129.6 334.0L130.3 334.7L131.0 335.2L131.7 335.7L132.4 336.0L133.1 335.9L133.8 336.0L134.5 336.3L135.2 336.3L135.9 336.3L136.6 336.4L137.3 336.3L138.0 336.1L138.7 335.9L139.4 335.4L140.1 334.5L140.8 333.8L141.5 333.2L142.2 332.1L142.9 330.8L143.6 329.8L144.3 328.5L145.0 327.2L145.7 326.0L146.4 324.8L147.1 323.5L147.8 322.3L148.5 321.1L149.2 319.8L149.9 318.7L150.6 318.0L151.3 317.3L152.0 316.6L152.7 316.0L153.4 315.8L154.1 315.8L154.8 315.7L155.5 315.6L156.2 315.8L156.9 316.2L157.6 316.6L158.3 317.7L159.0 319.0L159.7 320.0L160.4 321.3L161.1 323.1L161.8 324.9L162.5 326.5L163.2 328.0L163.9 330.1L164.6 332.3L165.3 334.2L166.0 336.5L166.7 339.1L167.4 341.4L168.1 343.3L168.8 345.4L169.5 348.1L170.2 350.9L170.9 353.6L171.6 356.2L172.3 358.6L173.0 360.9L173.7 363.3L174.4 365.5L175.1 367.6L175.8 369.9L176.5 372.1L177.2 373.5L177.9 374.5L178.6 375.7L179.3 376.9L180.0 377.9L180.7 379.0L181.4 380.2L182.1 381.2L182.8 381.9L183.5 382.5L184.2 383.0L184.9 383.8L185.6 384.6L186.3 385.5L187.0 386.2L187.7 386.7L188.4 387.3L189.1 387.8L189.8 387.9L190.5 388.0L191.2 388.5L191.9 389.3L192.6 389.7L193.3 389.9L194.0 390.1L194.7 390.2L195.4 390.3L196.1 390.6L196.8 391.0L197.5 391.1L198.2 391.1L198.9 391.3L199.6 391.5L200.3 391.6L201.0 391.7L201.7 392.1L202.4 392.1L203.1 392.2L203.8 392.5L204.5 392.6L205.2 392.5L205.9 392.5L206.6 392.4L207.3 392.3L208.0 392.4L208.7 392.7L209.4 392.7L210.1 392.9L210.8 392.9L211.5 392.9L212.2 393.1L212.9 393.4L213.6 393.6L214.3 393.8L215.0 393.7L215.7 393.6L216.4 393.6L217.1 393.7L217.8 393.7L218.5 393.6L219.2 393.7L219.9 393.8L220.6 393.9L221.3 394.0L222.0 393.8L222.7 393.9L223.4 394.0L224.1 393.8L224.8 394.0L225.5 394.1L226.2 393.8L226.9 393.9L227.6 394.2L228.3 394.3L229.0 394.4L229.7 394.3L230.4 394.6L231.1 394.9L231.8 394.7L232.5 394.6L233.2 394.5L233.9 394.5L234.6 394.6L235.3 394.5L236.0 394.6L236.7 394.7L237.4 394.6L238.1 394.6L238.8 394.6L239.5 394.7L240.2 394.9L240.9 394.9L241.6 394.6L242.3 394.7L243.0 394.7L243.7 394.8L244.4 394.8L245.1 394.9L245.8 395.1" stroke="#5a0a16" stroke-width="1.7" fill="none" stroke-linejoin="round"/>
<path d="M47.7 405.3L48.4 405.4L49.1 405.5L49.8 405.4L50.5 405.2L51.2 405.1L51.9 405.1L52.6 405.4L53.3 405.7L54.0 405.8L54.7 405.7L55.4 405.4L56.1 405.3L56.8 405.3L57.5 405.4L58.2 405.6L58.9 405.4L59.6 405.1L60.3 405.1L61.0 405.4L61.7 405.3L62.4 405.2L63.1 405.3L63.8 405.1L64.5 404.9L65.2 404.7L65.9 404.7L66.6 404.8L67.3 404.7L68.0 404.6L68.7 404.7L69.4 404.8L70.1 404.7L70.8 404.5L71.5 404.2L72.2 404.1L72.9 404.1L73.6 404.2L74.3 404.2L75.0 404.2L75.7 404.2L76.4 404.0L77.1 403.7L77.8 403.5L78.5 403.3L79.2 403.3L79.9 403.1L80.6 402.7L81.3 402.7L82.0 402.6L82.7 402.3L83.4 401.9L84.1 401.3L84.8 401.1L85.5 401.1L86.2 400.5L86.9 399.8L87.6 399.4L88.3 398.8L89.0 397.9L89.7 397.2L90.4 396.9L91.1 396.6L91.8 396.0L92.5 395.2L93.2 394.5L93.9 393.6L94.6 392.4L95.3 391.5L96.0 390.6L96.7 389.6L97.4 388.7L98.1 387.6L98.8 386.3L99.5 384.9L100.2 383.9L100.9 382.8L101.6 381.1L102.3 379.4L103.0 378.2L103.7 376.9L104.4 375.2L105.1 373.4L105.8 371.8L106.5 369.8L107.2 367.8L107.9 366.1L108.6 364.5L109.3 362.9L110.0 361.1L110.7 359.3L111.4 357.5L112.1 355.8L112.8 354.1L113.5 352.3L114.2 350.9L114.9 349.7L115.6 348.4L116.3 347.3L117.0 346.6L117.7 345.9L118.4 345.4L119.1 344.9L119.8 344.3L120.5 344.5L121.2 344.8L121.9 344.7L122.6 344.9L123.3 345.4L124.0 345.8L124.7 345.8L125.4 346.2L126.1 346.9L126.8 347.5L127.5 348.2L128.2 348.7L128.9 349.1L129.6 349.5L130.3 350.0L131.0 350.5L131.7 351.0L132.4 351.3L133.1 351.6L133.8 352.0L134.5 351.9L135.2 351.9L135.9 352.1L136.6 352.2L137.3 352.2L138.0 352.1L138.7 351.7L139.4 351.1L140.1 350.3L140.8 349.8L141.5 349.1L142.2 347.9L142.9 346.9L143.6 346.0L144.3 344.7L145.0 343.7L145.7 342.9L146.4 341.8L147.1 340.6L147.8 339.3L148.5 338.0L149.2 337.0L149.9 336.1L150.6 335.1L151.3 334.1L152.0 333.4L152.7 333.1L153.4 332.9L154.1 332.6L154.8 332.2L155.5 332.3L156.2 332.7L156.9 333.1L157.6 333.5L158.3 334.4L159.0 335.6L159.7 336.9L160.4 338.3L161.1 339.8L161.8 341.5L162.5 343.2L163.2 345.2L163.9 347.0L164.6 348.6L165.3 350.3L166.0 352.3L166.7 354.8L167.4 357.5L168.1 359.9L168.8 362.2L169.5 364.8L170.2 367.2L170.9 369.3L171.6 371.5L172.3 374.1L173.0 376.7L173.7 379.1L174.4 381.2L175.1 383.2L175.8 385.4L176.5 387.3L177.2 388.9L177.9 390.4L178.6 391.7L179.3 392.5L180.0 393.3L180.7 394.4L181.4 395.7L182.1 396.7L182.8 397.3L183.5 397.9L184.2 398.6L184.9 399.3L185.6 399.9L186.3 400.6L187.0 401.5L187.7 401.9L188.4 402.1L189.1 402.4L189.8 403.0L190.5 403.7L191.2 404.1L191.9 404.3L192.6 404.5L193.3 404.6L194.0 404.9L194.7 405.5L195.4 405.9L196.1 406.1L196.8 406.0L197.5 406.1L198.2 406.4L198.9 406.3L199.6 406.2L200.3 406.4L201.0 406.7L201.7 407.0L202.4 407.1L203.1 407.4L203.8 407.5L204.5 407.5L205.2 407.4L205.9 407.5L206.6 407.8L207.3 407.9L208.0 407.9L208.7 407.9L209.4 407.8L210.1 407.7L210.8 407.9L211.5 408.3L212.2 408.5L212.9 408.6L213.6 408.6L214.3 408.7L215.0 408.9L215.7 408.8L216.4 408.6L217.1 408.6L217.8 408.6L218.5 408.6L219.2 408.9L219.9 409.0L220.6 409.1L221.3 409.2L222.0 409.1L222.7 408.9L223.4 408.9L224.1 409.0L224.8 409.1L225.5 409.4L226.2 409.6L226.9 409.5L227.6 409.4L228.3 409.2L229.0 409.1L229.7 409.2L230.4 409.3L231.1 409.5L231.8 409.7L232.5 409.9L233.2 409.9L233.9 409.8L234.6 409.7L235.3 409.7L236.0 409.9L236.7 409.8L237.4 409.7L238.1 410.0L238.8 410.3L239.5 410.0L240.2 409.7L240.9 409.6L241.6 409.7L242.3 410.0L243.0 410.1L243.7 410.2L244.4 410.5L245.1 410.5L245.8 410.1" stroke="#9a1020" stroke-width="1.7" fill="none" stroke-linejoin="round"/>
<path d="M45.6 422.3L46.3 422.2L47.0 422.0L47.7 421.9L48.4 422.0L49.1 422.1L49.8 422.0L50.5 422.0L51.2 422.1L51.9 422.1L52.6 421.9L53.3 422.0L54.0 422.1L54.7 422.0L55.4 421.7L56.1 421.5L56.8 421.5L57.5 421.5L58.2 421.7L58.9 421.6L59.6 421.4L60.3 421.6L61.0 421.8L61.7 421.7L62.4 421.6L63.1 421.7L63.8 421.5L64.5 421.2L65.2 421.2L65.9 421.5L66.6 421.7L67.3 421.7L68.0 421.4L68.7 421.0L69.4 420.9L70.1 420.9L70.8 420.8L71.5 420.7L72.2 420.8L72.9 420.9L73.6 420.8L74.3 420.5L75.0 420.2L75.7 419.9L76.4 420.0L77.1 420.2L77.8 420.1L78.5 419.8L79.2 419.7L79.9 419.5L80.6 419.4L81.3 419.1L82.0 418.8L82.7 418.5L83.4 418.1L84.1 417.6L84.8 417.3L85.5 417.2L86.2 416.8L86.9 416.3L87.6 415.9L88.3 415.5L89.0 414.7L89.7 414.1L90.4 413.9L91.1 413.3L91.8 412.2L92.5 411.1L93.2 410.4L93.9 409.8L94.6 409.1L95.3 408.1L96.0 407.0L96.7 405.9L97.4 405.0L98.1 403.9L98.8 402.6L99.5 401.3L100.2 399.7L100.9 398.0L101.6 396.6L102.3 395.2L103.0 393.8L103.7 392.6L104.4 391.1L105.1 389.1L105.8 387.1L106.5 385.3L107.2 383.5L107.9 381.9L108.6 380.0L109.3 378.1L110.0 375.9L110.7 373.8L111.4 372.1L112.1 370.5L112.8 369.1L113.5 367.6L114.2 366.0L114.9 364.8L115.6 363.7L116.3 362.3L117.0 361.4L117.7 360.8L118.4 360.2L119.1 359.8L119.8 359.7L120.5 359.5L121.2 359.2L121.9 359.3L122.6 359.8L123.3 360.1L124.0 360.5L124.7 360.9L125.4 361.5L126.1 362.0L126.8 362.5L127.5 363.2L128.2 363.8L128.9 364.4L129.6 365.0L130.3 365.5L131.0 366.0L131.7 366.3L132.4 366.5L133.1 366.6L133.8 366.9L134.5 367.1L135.2 367.1L135.9 367.2L136.6 367.5L137.3 367.5L138.0 367.2L138.7 367.1L139.4 366.4L140.1 365.7L140.8 365.0L141.5 364.1L142.2 363.3L142.9 362.4L143.6 361.0L144.3 359.8L145.0 358.8L145.7 357.4L146.4 356.2L147.1 355.3L147.8 354.1L148.5 352.6L149.2 351.5L149.9 350.5L150.6 349.4L151.3 348.3L152.0 347.9L152.7 347.6L153.4 347.4L154.1 347.3L154.8 347.2L155.5 347.3L156.2 347.4L156.9 347.7L157.6 348.3L158.3 349.3L159.0 350.4L159.7 351.6L160.4 353.0L161.1 354.9L161.8 356.7L162.5 358.1L163.2 359.8L163.9 361.9L164.6 364.2L165.3 366.4L166.0 368.5L166.7 370.8L167.4 373.1L168.1 375.5L168.8 378.1L169.5 380.7L170.2 383.4L170.9 386.0L171.6 388.6L172.3 391.1L173.0 393.5L173.7 395.8L174.4 398.1L175.1 400.3L175.8 402.3L176.5 404.2L177.2 405.8L177.9 407.1L178.6 408.4L179.3 409.7L180.0 410.9L180.7 411.7L181.4 412.5L182.1 413.7L182.8 414.8L183.5 415.4L184.2 416.1L184.9 416.7L185.6 417.2L186.3 418.1L187.0 418.9L187.7 419.5L188.4 420.1L189.1 420.5L189.8 420.9L190.5 421.3L191.2 421.9L191.9 422.4L192.6 422.5L193.3 422.6L194.0 422.7L194.7 423.0L195.4 423.4L196.1 423.4L196.8 423.5L197.5 423.8L198.2 424.2L198.9 424.3L199.6 424.2L200.3 424.4L201.0 424.7L201.7 424.6L202.4 424.7L203.1 425.2L203.8 425.4L204.5 425.1L205.2 425.1L205.9 425.6L206.6 425.8L207.3 425.5L208.0 425.4L208.7 425.8L209.4 426.1L210.1 426.1L210.8 426.1L211.5 426.0L212.2 426.2L212.9 426.6L213.6 426.5L214.3 426.0L215.0 426.2L215.7 426.7L216.4 426.5L217.1 426.3L217.8 426.5L218.5 426.7L219.2 426.7L219.9 426.7L220.6 426.7L221.3 426.8L222.0 426.9L222.7 426.8L223.4 426.9L224.1 427.1L224.8 427.3L225.5 427.3L226.2 427.2L226.9 427.3L227.6 427.5L228.3 427.6L229.0 427.7L229.7 427.8L230.4 427.8L231.1 427.5L231.8 427.5L232.5 427.7L233.2 427.7L233.9 427.5L234.6 427.2L235.3 427.2L236.0 427.6L236.7 427.9L237.4 427.8L238.1 427.7L238.8 427.8L239.5 427.8L240.2 427.9L240.9 427.9L241.6 427.7L242.3 427.5L243.0 427.4L243.7 427.4L244.4 427.6L245.1 427.9L245.8 428.0" stroke="#cc4c5c" stroke-width="1.7" fill="none" stroke-linejoin="round"/>
<path d="M45.6 440.4L46.3 440.2L47.0 439.9L47.7 439.9L48.4 439.9L49.1 440.0L49.8 439.9L50.5 439.7L51.2 439.8L51.9 439.8L52.6 439.9L53.3 440.1L54.0 440.2L54.7 439.9L55.4 439.5L56.1 439.4L56.8 439.6L57.5 439.5L58.2 439.4L58.9 439.7L59.6 439.9L60.3 439.7L61.0 439.6L61.7 439.6L62.4 439.6L63.1 439.5L63.8 439.7L64.5 440.0L65.2 439.8L65.9 439.6L66.6 439.4L67.3 439.2L68.0 439.3L68.7 439.3L69.4 439.2L70.1 439.3L70.8 439.5L71.5 439.3L72.2 438.7L72.9 438.4L73.6 438.5L74.3 438.7L75.0 438.8L75.7 438.5L76.4 438.0L77.1 437.8L77.8 437.8L78.5 437.7L79.2 437.5L79.9 437.4L80.6 437.4L81.3 437.0L82.0 436.4L82.7 436.1L83.4 436.1L84.1 436.0L84.8 435.6L85.5 435.1L86.2 434.7L86.9 434.4L87.6 433.9L88.3 433.2L89.0 432.5L89.7 432.0L90.4 431.4L91.1 430.6L91.8 429.8L92.5 429.3L93.2 428.7L93.9 427.9L94.6 427.0L95.3 425.9L96.0 424.6L96.7 423.5L97.4 422.6L98.1 421.7L98.8 420.4L99.5 419.1L100.2 417.7L100.9 416.1L101.6 414.6L102.3 413.2L103.0 411.7L103.7 410.1L104.4 408.4L105.1 406.5L105.8 404.6L106.5 402.6L107.2 400.8L107.9 398.9L108.6 396.8L109.3 395.2L110.0 393.7L110.7 391.6L111.4 389.4L112.1 387.9L112.8 386.5L113.5 384.9L114.2 383.4L114.9 381.9L115.6 380.8L116.3 380.0L117.0 378.9L117.7 377.8L118.4 377.2L119.1 376.9L119.8 376.6L120.5 376.4L121.2 376.2L121.9 376.3L122.6 376.7L123.3 377.1L124.0 377.3L124.7 377.6L125.4 378.1L126.1 378.8L126.8 379.4L127.5 380.0L128.2 380.8L128.9 381.4L129.6 381.7L130.3 382.3L131.0 382.9L131.7 383.4L132.4 383.5L133.1 383.7L133.8 383.9L134.5 384.3L135.2 384.6L135.9 384.6L136.6 384.6L137.3 384.7L138.0 384.9L138.7 384.5L139.4 383.6L140.1 382.5L140.8 381.8L141.5 381.3L142.2 380.3L142.9 379.2L143.6 378.0L144.3 376.8L145.0 375.8L145.7 374.7L146.4 373.4L147.1 372.0L147.8 370.7L148.5 369.5L149.2 368.7L149.9 367.7L150.6 366.6L151.3 365.6L152.0 364.7L152.7 364.1L153.4 364.0L154.1 363.9L154.8 363.8L155.5 363.8L156.2 364.0L156.9 364.6L157.6 365.6L158.3 366.6L159.0 367.4L159.7 368.6L160.4 370.1L161.1 371.7L161.8 373.6L162.5 375.2L163.2 376.9L163.9 379.3L164.6 381.4L165.3 383.5L166.0 385.9L166.7 388.4L167.4 390.8L168.1 393.0L168.8 395.4L169.5 398.4L170.2 401.4L170.9 404.2L171.6 406.6L172.3 408.9L173.0 411.2L173.7 413.6L174.4 415.9L175.1 418.0L175.8 419.9L176.5 421.7L177.2 423.7L177.9 425.6L178.6 427.3L179.3 428.3L180.0 429.2L180.7 430.2L181.4 431.0L182.1 431.7L182.8 432.7L183.5 433.9L184.2 434.6L184.9 435.0L185.6 435.9L186.3 436.8L187.0 437.4L187.7 437.8L188.4 438.2L189.1 438.7L189.8 439.3L190.5 439.8L191.2 439.9L191.9 440.2L192.6 440.7L193.3 441.0L194.0 441.4L194.7 441.7L195.4 442.1L196.1 442.4L196.8 442.5L197.5 442.5L198.2 442.4L198.9 442.5L199.6 443.0L200.3 443.4L201.0 443.7L201.7 443.8L202.4 443.6L203.1 443.6L203.8 443.8L204.5 443.8L205.2 443.7L205.9 443.8L206.6 444.0L207.3 444.0L208.0 444.0L208.7 444.1L209.4 444.3L210.1 444.4L210.8 444.4L211.5 444.3L212.2 444.5L212.9 444.8L213.6 444.7L214.3 444.7L215.0 444.6L215.7 444.5L216.4 444.9L217.1 445.1L217.8 445.0L218.5 445.1L219.2 445.1L219.9 445.0L220.6 445.2L221.3 445.5L222.0 445.6L222.7 445.5L223.4 445.6L224.1 445.6L224.8 445.2L225.5 445.2L226.2 445.6L226.9 445.7L227.6 445.9L228.3 446.0L229.0 445.7L229.7 445.4L230.4 445.3L231.1 445.6L231.8 445.8L232.5 446.0L233.2 446.0L233.9 446.0L234.6 446.4L235.3 446.5L236.0 446.3L236.7 446.0L237.4 446.0L238.1 446.1L238.8 446.0L239.5 446.1L240.2 446.3L240.9 446.4L241.6 446.4L242.3 446.4L243.0 446.6L243.7 446.3L244.4 445.9L245.1 446.1L245.8 446.4" stroke="#da8490" stroke-width="1.7" fill="none" stroke-linejoin="round"/>
<path d="M45.6 458.9L46.3 458.7L47.0 458.4L47.7 458.4L48.4 458.5L49.1 458.4L49.8 458.3L50.5 458.3L51.2 458.4L51.9 458.3L52.6 458.2L53.3 458.3L54.0 458.4L54.7 458.5L55.4 458.6L56.1 458.8L56.8 458.7L57.5 458.4L58.2 458.2L58.9 458.3L59.6 458.6L60.3 458.7L61.0 458.6L61.7 458.2L62.4 458.1L63.1 458.4L63.8 458.4L64.5 458.3L65.2 458.3L65.9 458.3L66.6 458.1L67.3 457.9L68.0 458.0L68.7 457.9L69.4 457.9L70.1 458.2L70.8 458.0L71.5 457.5L72.2 457.2L72.9 457.4L73.6 457.4L74.3 457.1L75.0 456.8L75.7 456.6L76.4 456.5L77.1 456.6L77.8 456.7L78.5 456.5L79.2 456.1L79.9 456.0L80.6 455.8L81.3 455.5L82.0 455.4L82.7 455.4L83.4 455.1L84.1 454.6L84.8 454.1L85.5 453.5L86.2 453.0L86.9 452.7L87.6 452.7L88.3 452.3L89.0 451.6L89.7 450.7L90.4 449.9L91.1 449.1L91.8 448.4L92.5 447.7L93.2 446.8L93.9 445.9L94.6 444.7L95.3 443.5L96.0 442.5L96.7 441.4L97.4 440.5L98.1 439.6L98.8 438.3L99.5 437.0L100.2 435.8L100.9 434.3L101.6 432.7L102.3 431.2L103.0 429.5L103.7 427.7L104.4 425.9L105.1 423.9L105.8 422.1L106.5 420.4L107.2 418.5L107.9 416.4L108.6 414.5L109.3 412.9L110.0 411.1L110.7 409.1L111.4 407.1L112.1 405.0L112.8 403.3L113.5 401.8L114.2 400.2L114.9 398.8L115.6 397.7L116.3 396.3L117.0 395.3L117.7 394.9L118.4 394.5L119.1 393.9L119.8 393.4L120.5 393.0L121.2 392.9L121.9 393.1L122.6 393.6L123.3 394.1L124.0 394.4L124.7 394.8L125.4 395.2L126.1 395.8L126.8 396.6L127.5 397.3L128.2 397.7L128.9 398.1L129.6 398.7L130.3 399.5L131.0 400.3L131.7 400.6L132.4 400.6L133.1 400.7L133.8 400.7L134.5 401.0L135.2 401.3L135.9 401.4L136.6 401.4L137.3 401.2L138.0 401.1L138.7 400.8L139.4 399.8L140.1 398.9L140.8 398.2L141.5 397.4L142.2 396.5L142.9 395.6L143.6 394.3L144.3 393.1L145.0 392.0L145.7 390.9L146.4 389.6L147.1 387.9L147.8 386.4L148.5 385.2L149.2 384.2L149.9 383.1L150.6 381.8L151.3 380.9L152.0 380.1L152.7 379.5L153.4 379.4L154.1 379.6L154.8 379.5L155.5 379.5L156.2 379.8L156.9 380.2L157.6 380.6L158.3 381.9L159.0 383.4L159.7 384.4L160.4 385.8L161.1 387.4L161.8 389.0L162.5 391.0L163.2 393.1L163.9 395.2L164.6 397.3L165.3 399.6L166.0 402.1L166.7 404.7L167.4 407.3L168.1 409.8L168.8 412.1L169.5 414.7L170.2 417.8L170.9 420.6L171.6 422.8L172.3 425.2L173.0 428.1L173.7 430.9L174.4 433.3L175.1 435.5L175.8 437.9L176.5 440.0L177.2 441.6L177.9 443.0L178.6 444.6L179.3 446.2L180.0 447.3L180.7 448.1L181.4 448.8L182.1 449.9L182.8 450.9L183.5 451.8L184.2 452.7L184.9 453.4L185.6 454.1L186.3 454.9L187.0 455.4L187.7 455.8L188.4 456.6L189.1 457.3L189.8 457.5L190.5 457.9L191.2 458.5L191.9 458.7L192.6 458.7L193.3 459.0L194.0 459.6L194.7 460.2L195.4 460.4L196.1 460.5L196.8 460.6L197.5 460.6L198.2 460.7L198.9 460.9L199.6 461.2L200.3 461.6L201.0 461.6L201.7 461.6L202.4 461.8L203.1 461.8L203.8 461.7L204.5 461.8L205.2 461.9L205.9 462.2L206.6 462.4L207.3 462.5L208.0 462.6L208.7 462.7L209.4 462.6L210.1 462.6L210.8 462.7L211.5 462.8L212.2 462.9L212.9 463.1L213.6 463.1L214.3 462.9L215.0 462.9L215.7 463.2L216.4 463.5L217.1 463.7L217.8 463.9L218.5 464.0L219.2 463.9L219.9 463.7L220.6 463.5L221.3 463.5L222.0 463.7L222.7 463.9L223.4 464.0L224.1 464.0L224.8 464.1L225.5 464.2L226.2 464.2L226.9 464.3L227.6 464.2L228.3 464.1L229.0 464.1L229.7 464.4L230.4 464.5L231.1 464.4L231.8 464.5L232.5 464.8L233.2 464.5L233.9 464.4L234.6 464.5L235.3 464.4L236.0 464.7L236.7 465.1L237.4 465.1L238.1 465.0L238.8 464.9L239.5 464.9L240.2 465.0L240.9 464.8L241.6 464.8L242.3 464.9L243.0 465.1L243.7 465.1L244.4 464.9L245.1 464.8L245.8 465.0" stroke="#e8b6be" stroke-width="1.7" fill="none" stroke-linejoin="round"/>
<path d="M45.6 475.8L46.3 475.6L47.0 475.0L47.7 474.8L48.4 474.9L49.1 474.9L49.8 475.0L50.5 475.0L51.2 475.2L51.9 475.1L52.6 474.7L53.3 474.8L54.0 474.7L54.7 474.6L55.4 474.7L56.1 474.9L56.8 475.0L57.5 474.8L58.2 475.1L58.9 475.4L59.6 475.2L60.3 475.0L61.0 474.8L61.7 474.7L62.4 474.9L63.1 475.0L63.8 475.2L64.5 475.3L65.2 475.1L65.9 474.9L66.6 474.8L67.3 474.4L68.0 474.2L68.7 474.2L69.4 474.3L70.1 474.4L70.8 474.4L71.5 474.6L72.2 474.6L72.9 474.2L73.6 473.9L74.3 473.9L75.0 473.7L75.7 473.4L76.4 473.3L77.1 473.3L77.8 473.2L78.5 473.2L79.2 472.9L79.9 472.5L80.6 472.2L81.3 472.0L82.0 471.8L82.7 471.6L83.4 471.5L84.1 471.3L84.8 470.9L85.5 470.2L86.2 469.8L86.9 469.6L87.6 469.1L88.3 468.6L89.0 468.0L89.7 467.5L90.4 466.9L91.1 466.2L91.8 465.3L92.5 464.3L93.2 463.5L93.9 462.7L94.6 461.7L95.3 460.8L96.0 460.0L96.7 458.9L97.4 457.4L98.1 456.2L98.8 455.1L99.5 453.9L100.2 452.4L100.9 451.0L101.6 449.5L102.3 448.1L103.0 446.6L103.7 444.7L104.4 442.9L105.1 441.1L105.8 439.5L106.5 437.7L107.2 435.7L107.9 433.7L108.6 431.4L109.3 429.3L110.0 427.6L110.7 425.9L111.4 424.2L112.1 422.5L112.8 420.9L113.5 419.4L114.2 417.7L114.9 416.0L115.6 414.9L116.3 414.0L117.0 412.9L117.7 412.3L118.4 412.1L119.1 411.4L119.8 410.8L120.5 410.7L121.2 411.0L121.9 411.2L122.6 411.3L123.3 411.7L124.0 412.2L124.7 412.8L125.4 413.2L126.1 413.4L126.8 413.9L127.5 414.8L128.2 415.8L128.9 416.2L129.6 416.7L130.3 417.3L131.0 417.6L131.7 417.9L132.4 418.2L133.1 418.3L133.8 418.6L134.5 418.7L135.2 418.5L135.9 418.3L136.6 418.4L137.3 418.6L138.0 418.5L138.7 417.9L139.4 417.1L140.1 416.4L140.8 415.8L141.5 415.0L142.2 414.0L142.9 412.8L143.6 411.4L144.3 410.1L145.0 409.1L145.7 408.0L146.4 406.5L147.1 404.7L147.8 403.1L148.5 401.9L149.2 401.1L149.9 400.4L150.6 399.3L151.3 398.3L152.0 397.7L152.7 397.3L153.4 396.9L154.1 396.7L154.8 396.4L155.5 396.3L156.2 397.0L156.9 397.7L157.6 398.2L158.3 399.0L159.0 400.1L159.7 401.5L160.4 403.1L161.1 404.5L161.8 405.8L162.5 407.4L163.2 409.5L163.9 411.6L164.6 414.0L165.3 416.8L166.0 419.2L166.7 421.4L167.4 424.1L168.1 426.7L168.8 429.2L169.5 431.9L170.2 434.4L170.9 436.9L171.6 439.5L172.3 442.4L173.0 445.2L173.7 447.5L174.4 449.8L175.1 452.2L175.8 454.4L176.5 456.5L177.2 458.3L177.9 459.6L178.6 460.9L179.3 462.3L180.0 463.5L180.7 464.6L181.4 465.9L182.1 467.0L182.8 467.7L183.5 468.5L184.2 469.3L184.9 469.8L185.6 470.3L186.3 471.0L187.0 471.9L187.7 472.6L188.4 473.1L189.1 473.7L189.8 474.4L190.5 474.7L191.2 474.7L191.9 475.1L192.6 475.6L193.3 475.9L194.0 476.1L194.7 476.2L195.4 476.3L196.1 476.5L196.8 476.8L197.5 477.2L198.2 477.3L198.9 477.4L199.6 477.4L200.3 477.5L201.0 477.8L201.7 478.1L202.4 478.2L203.1 478.3L203.8 478.3L204.5 478.4L205.2 478.4L205.9 478.5L206.6 478.8L207.3 479.1L208.0 479.1L208.7 479.2L209.4 479.4L210.1 479.5L210.8 479.6L211.5 479.7L212.2 479.6L212.9 479.6L213.6 479.7L214.3 479.8L215.0 480.0L215.7 480.2L216.4 480.2L217.1 479.9L217.8 479.8L218.5 480.0L219.2 480.2L219.9 480.4L220.6 480.3L221.3 480.3L222.0 480.4L222.7 480.4L223.4 480.5L224.1 480.9L224.8 481.0L225.5 480.8L226.2 480.6L226.9 480.6L227.6 480.7L228.3 480.8L229.0 480.8L229.7 480.7L230.4 480.8L231.1 480.9L231.8 481.1L232.5 481.3L233.2 481.0L233.9 480.7L234.6 480.6L235.3 480.6L236.0 480.9L236.7 481.2L237.4 481.2L238.1 481.2L238.8 481.2L239.5 481.0L240.2 480.9L240.9 480.9L241.6 481.2L242.3 481.4L243.0 481.4L243.7 481.6L244.4 481.8L245.1 481.5L245.8 481.5" stroke="#f0d8cc" stroke-width="1.7" fill="none" stroke-linejoin="round"/>
<path d="M121 306V503M154.5 301V503" stroke="#000" stroke-width="1.7" stroke-dasharray="4.2 2.8" fill="none"/>
<path d="M127.5 292.2L119.6 303.6Q119.2 305.2 121 306.6" stroke="#000" stroke-width="1.5" fill="none"/>
<path d="M148.2 294.2L154.4 301" stroke="#000" stroke-width="1.5" fill="none"/>
<path d="M228.5 377.6V472" stroke="#6a0a10" stroke-width="1.6"/>
<path d="M225.2 470.8L231.7 470.8L228.5 482.9Z" fill="#6a0a10"/>
<path d="M299.0 347.7L299.7 347.8L300.4 347.9L301.1 347.9L301.8 348.0L302.5 348.1L303.2 347.9L303.9 347.8L304.6 347.8L305.3 347.7L306.0 347.6L306.7 347.7L307.4 347.7L308.1 347.8L308.8 347.9L309.5 347.6L310.2 347.5L310.9 347.5L311.6 347.3L312.3 347.2L313.0 347.2L313.7 347.3L314.4 347.6L315.1 347.8L315.8 347.9L316.5 348.0L317.2 348.0L317.9 347.8L318.6 347.7L319.3 347.7L320.0 347.6L320.7 347.6L321.4 347.9L322.1 347.9L322.8 347.7L323.5 347.8L324.2 347.7L324.9 347.4L325.6 347.3L326.3 347.3L327.0 347.4L327.7 347.5L328.4 347.7L329.1 347.7L329.8 347.4L330.5 347.3L331.2 347.3L331.9 347.4L332.6 347.6L333.3 347.4L334.0 347.1L334.7 347.3L335.4 347.5L336.1 347.6L336.8 347.5L337.5 347.3L338.2 347.3L338.9 347.3L339.6 347.3L340.3 347.4L341.0 347.3L341.7 347.2L342.4 347.0L343.1 346.8L343.8 346.7L344.5 346.9L345.2 346.8L345.9 346.4L346.6 346.4L347.3 346.7L348.0 346.9L348.7 346.8L349.4 346.4L350.1 345.9L350.8 345.9L351.5 346.0L352.2 345.8L352.9 345.6L353.6 345.5L354.3 345.6L355.0 345.4L355.7 344.8L356.4 344.6L357.1 344.6L357.8 344.4L358.5 344.3L359.2 344.1L359.9 343.5L360.6 343.2L361.3 343.1L362.0 342.9L362.7 342.9L363.4 342.8L364.1 342.4L364.8 342.1L365.5 341.9L366.2 341.5L366.9 341.3L367.6 341.3L368.3 340.7L369.0 340.3L369.7 340.0L370.4 339.5L371.1 339.2L371.8 339.2L372.5 338.8L373.2 338.3L373.9 337.9L374.6 337.4L375.3 336.9L376.0 336.9L376.7 336.7L377.4 336.0L378.1 335.1L378.8 334.2L379.5 333.6L380.2 333.0L380.9 332.4L381.6 331.7L382.3 330.9L383.0 330.0L383.7 329.0L384.4 328.1L385.1 327.4L385.8 326.3L386.5 325.4L387.2 324.6L387.9 323.8L388.6 323.0L389.3 322.2L390.0 321.2L390.7 320.2L391.4 319.3L392.1 318.3L392.8 317.2L393.5 316.4L394.2 315.5L394.9 314.7L395.6 314.1L396.3 313.5L397.0 313.0L397.7 312.2L398.4 311.3L399.1 311.0L399.8 311.0L400.5 310.6L401.2 310.1L401.9 309.5L402.6 308.9L403.3 308.8L404.0 309.0L404.7 309.0L405.4 308.8L406.1 308.9L406.8 309.0L407.5 309.0L408.2 309.5L408.9 310.4L409.6 310.9L410.3 311.1L411.0 311.6L411.7 311.9L412.4 312.1L413.1 312.8L413.8 313.8L414.5 314.8L415.2 315.8L415.9 316.5L416.6 317.0L417.3 317.8L418.0 318.9L418.7 319.8L419.4 320.4L420.1 321.3L420.8 322.6L421.5 323.7L422.2 324.5L422.9 325.4L423.6 326.6L424.3 327.5L425.0 328.5L425.7 329.5L426.4 330.1L427.1 330.8L427.8 331.4L428.5 332.1L429.2 333.1L429.9 334.3L430.6 335.0L431.3 335.6L432.0 336.2L432.7 336.7L433.4 337.5L434.1 338.4L434.8 339.0L435.5 339.5L436.2 340.2L436.9 340.8L437.6 341.1L438.3 341.3L439.0 341.4L439.7 341.8L440.4 342.5L441.1 343.0L441.8 343.2L442.5 343.4L443.2 343.7L443.9 344.3L444.6 344.6L445.3 344.4L446.0 344.4L446.7 344.9L447.4 345.3L448.1 345.3L448.8 345.6L449.5 345.8L450.2 345.8L450.9 345.5L451.6 345.4L452.3 345.4L453.0 345.7L453.7 345.9L454.4 345.9L455.1 346.1L455.8 346.2L456.5 346.0L457.2 346.0L457.9 346.0L458.6 346.0L459.3 346.3L460.0 346.4L460.7 346.4L461.4 346.6L462.1 346.5L462.8 346.2L463.5 346.0L464.2 345.9L464.9 346.0L465.6 346.1L466.3 346.3L467.0 346.2L467.7 345.8L468.4 345.7L469.1 346.0L469.8 346.3L470.5 346.3L471.2 346.0L471.9 346.1L472.6 346.3L473.3 346.3L474.0 346.1L474.7 346.0L475.4 346.3L476.1 346.5L476.8 346.5L477.5 346.5L478.2 346.3L478.9 346.2L479.6 346.4L480.3 346.3L481.0 346.2L481.7 346.2L482.4 346.2L483.1 346.4L483.8 346.4L484.5 346.4L485.2 346.4L485.9 346.0L486.6 346.1L487.3 346.4L488.0 346.1L488.7 346.0L489.4 346.3L490.1 346.3L490.8 346.0L491.5 346.1L492.2 345.9L492.9 345.8L493.6 345.9L494.3 345.9L495.0 345.8L495.7 345.8L496.4 345.9L497.1 346.0L497.8 346.1L498.5 346.2L499.2 345.9L499.9 345.7L500.6 345.7L501.3 346.0L502.0 346.4L502.7 346.3L503.4 346.1L504.1 346.0L504.8 346.0L505.5 346.0L506.2 346.1L506.9 346.1L507.6 346.2" stroke="#2e0810" stroke-width="1.7" fill="none" stroke-linejoin="round"/>
<path d="M299.0 373.0L299.7 372.9L300.4 372.8L301.1 372.9L301.8 373.5L302.5 373.8L303.2 373.4L303.9 372.9L304.6 372.8L305.3 372.9L306.0 372.6L306.7 372.6L307.4 372.8L308.1 372.8L308.8 373.1L309.5 373.2L310.2 372.8L310.9 372.6L311.6 372.4L312.3 372.5L313.0 372.8L313.7 373.0L314.4 373.0L315.1 372.8L315.8 372.8L316.5 372.7L317.2 372.6L317.9 372.8L318.6 373.2L319.3 373.1L320.0 372.8L320.7 372.8L321.4 373.1L322.1 373.0L322.8 372.6L323.5 372.5L324.2 372.8L324.9 372.9L325.6 372.7L326.3 372.7L327.0 372.9L327.7 373.1L328.4 372.9L329.1 372.6L329.8 372.7L330.5 372.9L331.2 372.8L331.9 372.5L332.6 372.4L333.3 372.3L334.0 372.2L334.7 372.2L335.4 372.2L336.1 372.2L336.8 372.3L337.5 372.6L338.2 372.7L338.9 372.4L339.6 372.3L340.3 372.3L341.0 371.9L341.7 371.9L342.4 372.3L343.1 372.5L343.8 372.4L344.5 372.1L345.2 371.8L345.9 371.8L346.6 371.9L347.3 371.7L348.0 371.4L348.7 371.2L349.4 371.3L350.1 371.5L350.8 371.3L351.5 370.9L352.2 370.7L352.9 370.7L353.6 370.7L354.3 370.4L355.0 370.1L355.7 369.7L356.4 369.7L357.1 369.9L357.8 369.8L358.5 369.3L359.2 369.1L359.9 369.1L360.6 368.9L361.3 368.6L362.0 368.6L362.7 368.5L363.4 368.4L364.1 368.1L364.8 367.7L365.5 367.4L366.2 367.2L366.9 366.8L367.6 366.7L368.3 366.6L369.0 366.3L369.7 366.2L370.4 366.0L371.1 365.7L371.8 365.5L372.5 365.3L373.2 364.9L373.9 364.4L374.6 363.9L375.3 363.7L376.0 363.5L376.7 362.9L377.4 362.1L378.1 361.5L378.8 361.0L379.5 360.6L380.2 360.2L380.9 359.6L381.6 358.7L382.3 358.1L383.0 357.5L383.7 356.5L384.4 355.8L385.1 355.0L385.8 354.4L386.5 353.6L387.2 352.7L387.9 352.0L388.6 351.3L389.3 350.6L390.0 349.8L390.7 349.0L391.4 348.2L392.1 347.4L392.8 346.4L393.5 345.5L394.2 345.0L394.9 344.6L395.6 343.8L396.3 342.7L397.0 342.2L397.7 341.8L398.4 341.1L399.1 340.8L399.8 340.8L400.5 340.3L401.2 339.8L401.9 339.7L402.6 339.6L403.3 339.3L404.0 339.1L404.7 338.9L405.4 338.7L406.1 338.9L406.8 339.2L407.5 339.5L408.2 339.8L408.9 339.7L409.6 339.7L410.3 340.3L411.0 341.0L411.7 341.6L412.4 342.0L413.1 342.6L413.8 343.3L414.5 343.9L415.2 344.6L415.9 345.1L416.6 345.9L417.3 346.6L418.0 347.1L418.7 348.0L419.4 349.1L420.1 350.0L420.8 350.8L421.5 351.6L422.2 352.5L422.9 353.5L423.6 354.2L424.3 354.7L425.0 355.4L425.7 356.3L426.4 357.3L427.1 358.1L427.8 358.7L428.5 359.4L429.2 360.0L429.9 360.5L430.6 361.2L431.3 361.9L432.0 362.5L432.7 363.2L433.4 363.7L434.1 364.3L434.8 365.2L435.5 365.7L436.2 366.1L436.9 366.4L437.6 366.9L438.3 367.3L439.0 367.9L439.7 368.2L440.4 368.2L441.1 368.3L441.8 368.3L442.5 368.1L443.2 368.5L443.9 369.2L444.6 369.5L445.3 369.7L446.0 370.1L446.7 370.3L447.4 370.3L448.1 370.6L448.8 370.8L449.5 370.6L450.2 370.5L450.9 370.8L451.6 370.8L452.3 370.7L453.0 370.8L453.7 370.9L454.4 371.1L455.1 371.3L455.8 371.4L456.5 371.2L457.2 371.0L457.9 371.1L458.6 371.2L459.3 371.4L460.0 371.6L460.7 371.3L461.4 371.2L462.1 371.4L462.8 371.4L463.5 371.2L464.2 371.2L464.9 371.3L465.6 371.4L466.3 371.4L467.0 371.2L467.7 371.3L468.4 371.4L469.1 371.1L469.8 370.6L470.5 370.7L471.2 370.9L471.9 371.1L472.6 371.3L473.3 371.4L474.0 371.3L474.7 371.2L475.4 371.3L476.1 371.4L476.8 371.2L477.5 371.3L478.2 371.4L478.9 371.1L479.6 370.8L480.3 370.9L481.0 371.0L481.7 371.1L482.4 371.3L483.1 371.2L483.8 371.1L484.5 371.2L485.2 371.2L485.9 371.1L486.6 371.1L487.3 371.1L488.0 370.9L488.7 370.9L489.4 370.9L490.1 370.7L490.8 370.8L491.5 371.1L492.2 371.0L492.9 370.9L493.6 370.9L494.3 370.9L495.0 370.9L495.7 370.9L496.4 370.9L497.1 370.9L497.8 371.0L498.5 370.9L499.2 370.6L499.9 370.6L500.6 370.9L501.3 370.9L502.0 370.8L502.7 370.8L503.4 370.7L504.1 370.6L504.8 370.4L505.5 370.5L506.2 370.7L506.9 370.9L507.6 371.0" stroke="#5a0a16" stroke-width="1.7" fill="none" stroke-linejoin="round"/>
<path d="M299.0 399.5L299.7 399.6L300.4 399.3L301.1 398.9L301.8 399.0L302.5 399.5L303.2 399.5L303.9 399.3L304.6 399.2L305.3 399.3L306.0 399.6L306.7 399.7L307.4 399.7L308.1 399.3L308.8 399.1L309.5 399.3L310.2 399.4L310.9 399.4L311.6 399.6L312.3 399.6L313.0 399.5L313.7 399.4L314.4 399.3L315.1 399.3L315.8 399.4L316.5 399.6L317.2 399.6L317.9 399.5L318.6 399.5L319.3 399.4L320.0 399.4L320.7 399.4L321.4 399.4L322.1 399.3L322.8 399.2L323.5 399.2L324.2 399.3L324.9 399.1L325.6 399.1L326.3 399.2L327.0 399.2L327.7 399.2L328.4 399.4L329.1 399.5L329.8 399.3L330.5 399.0L331.2 399.2L331.9 399.3L332.6 399.3L333.3 399.4L334.0 399.4L334.7 399.2L335.4 399.1L336.1 399.0L336.8 399.0L337.5 399.1L338.2 399.2L338.9 399.1L339.6 399.0L340.3 399.0L341.0 398.9L341.7 398.6L342.4 398.5L343.1 398.6L343.8 398.6L344.5 398.6L345.2 398.5L345.9 398.4L346.6 398.5L347.3 398.3L348.0 398.0L348.7 397.9L349.4 398.0L350.1 398.1L350.8 397.9L351.5 397.6L352.2 397.5L352.9 397.4L353.6 397.3L354.3 397.4L355.0 397.1L355.7 397.0L356.4 396.7L357.1 396.4L357.8 396.4L358.5 396.3L359.2 395.9L359.9 395.6L360.6 395.5L361.3 395.3L362.0 395.1L362.7 395.2L363.4 394.9L364.1 394.4L364.8 394.3L365.5 394.2L366.2 394.1L366.9 393.8L367.6 393.7L368.3 393.3L369.0 392.7L369.7 392.3L370.4 392.1L371.1 392.1L371.8 392.0L372.5 391.5L373.2 390.9L373.9 390.6L374.6 390.4L375.3 389.9L376.0 389.4L376.7 388.9L377.4 388.3L378.1 388.0L378.8 387.6L379.5 386.9L380.2 386.0L380.9 385.3L381.6 384.8L382.3 384.2L383.0 383.6L383.7 383.0L384.4 382.4L385.1 381.5L385.8 380.4L386.5 379.6L387.2 379.0L387.9 378.2L388.6 377.5L389.3 376.6L390.0 375.5L390.7 374.5L391.4 373.7L392.1 372.8L392.8 371.9L393.5 371.4L394.2 370.8L394.9 370.0L395.6 369.2L396.3 368.4L397.0 367.9L397.7 367.4L398.4 366.6L399.1 366.2L399.8 365.9L400.5 365.5L401.2 365.4L401.9 365.2L402.6 364.8L403.3 364.5L404.0 364.4L404.7 364.5L405.4 364.6L406.1 364.7L406.8 365.0L407.5 365.2L408.2 365.5L408.9 365.6L409.6 365.7L410.3 366.2L411.0 366.7L411.7 367.1L412.4 367.8L413.1 368.5L413.8 368.9L414.5 369.5L415.2 370.3L415.9 371.1L416.6 371.8L417.3 372.4L418.0 373.2L418.7 374.2L419.4 374.8L420.1 375.3L420.8 376.3L421.5 377.4L422.2 378.4L422.9 379.2L423.6 380.0L424.3 381.0L425.0 382.1L425.7 383.1L426.4 383.7L427.1 384.2L427.8 384.9L428.5 385.6L429.2 386.5L429.9 387.1L430.6 387.5L431.3 388.0L432.0 388.6L432.7 389.2L433.4 389.9L434.1 390.4L434.8 391.0L435.5 391.7L436.2 392.3L436.9 392.5L437.6 392.9L438.3 393.4L439.0 393.8L439.7 394.2L440.4 394.7L441.1 395.1L441.8 395.3L442.5 395.6L443.2 396.1L443.9 396.3L444.6 396.1L445.3 396.3L446.0 396.5L446.7 396.6L447.4 396.7L448.1 396.8L448.8 396.8L449.5 396.8L450.2 396.8L450.9 396.9L451.6 397.1L452.3 397.8L453.0 398.0L453.7 397.9L454.4 397.8L455.1 397.9L455.8 398.1L456.5 398.1L457.2 397.9L457.9 397.7L458.6 397.7L459.3 397.6L460.0 397.5L460.7 397.6L461.4 397.9L462.1 397.9L462.8 397.9L463.5 398.2L464.2 398.2L464.9 397.9L465.6 397.7L466.3 397.9L467.0 398.0L467.7 397.8L468.4 397.7L469.1 397.6L469.8 397.5L470.5 397.8L471.2 398.1L471.9 398.1L472.6 398.0L473.3 398.0L474.0 398.0L474.7 397.8L475.4 397.7L476.1 397.7L476.8 397.9L477.5 398.1L478.2 398.2L478.9 397.9L479.6 397.6L480.3 397.6L481.0 397.8L481.7 398.0L482.4 397.9L483.1 397.7L483.8 397.7L484.5 397.8L485.2 397.8L485.9 397.7L486.6 397.9L487.3 398.0L488.0 398.0L488.7 398.1L489.4 398.0L490.1 397.9L490.8 397.8L491.5 397.6L492.2 397.5L492.9 397.4L493.6 397.5L494.3 397.6L495.0 397.7L495.7 397.8L496.4 397.5L497.1 397.2L497.8 397.2L498.5 397.3L499.2 397.4L499.9 397.4L500.6 397.6L501.3 397.7L502.0 397.4L502.7 397.4L503.4 397.4L504.1 397.3L504.8 397.5L505.5 397.5L506.2 397.4L506.9 397.6L507.6 398.0" stroke="#9a1020" stroke-width="1.7" fill="none" stroke-linejoin="round"/>
<path d="M299.0 423.6L299.7 423.4L300.4 423.4L301.1 423.6L301.8 423.7L302.5 423.6L303.2 423.6L303.9 423.7L304.6 423.6L305.3 423.4L306.0 423.4L306.7 423.7L307.4 423.9L308.1 423.8L308.8 423.7L309.5 423.7L310.2 423.9L310.9 424.0L311.6 423.8L312.3 423.8L313.0 423.8L313.7 423.6L314.4 423.6L315.1 423.6L315.8 423.6L316.5 423.8L317.2 424.0L317.9 423.9L318.6 423.7L319.3 423.8L320.0 423.9L320.7 423.6L321.4 423.6L322.1 423.8L322.8 423.7L323.5 423.7L324.2 423.7L324.9 423.8L325.6 423.8L326.3 423.6L327.0 423.5L327.7 423.5L328.4 423.4L329.1 423.4L329.8 423.4L330.5 423.7L331.2 424.0L331.9 424.0L332.6 423.7L333.3 423.5L334.0 423.6L334.7 423.4L335.4 423.5L336.1 423.6L336.8 423.4L337.5 423.4L338.2 423.4L338.9 423.2L339.6 423.2L340.3 423.2L341.0 423.3L341.7 423.4L342.4 423.3L343.1 422.9L343.8 422.8L344.5 422.8L345.2 422.6L345.9 422.6L346.6 422.7L347.3 422.5L348.0 422.3L348.7 422.3L349.4 422.3L350.1 422.0L350.8 422.0L351.5 422.3L352.2 422.1L352.9 421.5L353.6 421.2L354.3 421.3L355.0 421.1L355.7 420.9L356.4 420.9L357.1 420.6L357.8 420.0L358.5 419.7L359.2 419.9L359.9 420.0L360.6 419.7L361.3 419.3L362.0 419.4L362.7 419.4L363.4 419.0L364.1 418.8L364.8 418.8L365.5 418.7L366.2 418.4L366.9 418.1L367.6 417.8L368.3 417.4L369.0 417.1L369.7 417.0L370.4 416.8L371.1 416.6L371.8 416.4L372.5 416.2L373.2 415.7L373.9 415.1L374.6 414.8L375.3 414.4L376.0 413.8L376.7 413.5L377.4 413.4L378.1 412.8L378.8 412.0L379.5 411.3L380.2 410.8L380.9 410.4L381.6 409.8L382.3 408.8L383.0 407.9L383.7 407.4L384.4 406.9L385.1 406.2L385.8 405.7L386.5 405.0L387.2 403.9L387.9 402.7L388.6 401.8L389.3 401.3L390.0 400.7L390.7 399.9L391.4 399.2L392.1 398.4L392.8 397.7L393.5 396.8L394.2 395.8L394.9 394.9L395.6 394.1L396.3 393.6L397.0 393.4L397.7 393.2L398.4 392.7L399.1 392.0L399.8 391.3L400.5 391.0L401.2 390.9L401.9 390.6L402.6 390.3L403.3 390.2L404.0 390.0L404.7 389.8L405.4 390.0L406.1 390.1L406.8 390.1L407.5 390.4L408.2 391.0L408.9 391.5L409.6 391.6L410.3 391.5L411.0 392.0L411.7 392.6L412.4 392.9L413.1 393.3L413.8 394.1L414.5 395.2L415.2 396.0L415.9 396.5L416.6 397.1L417.3 397.7L418.0 398.5L418.7 399.4L419.4 400.2L420.1 401.1L420.8 401.7L421.5 402.5L422.2 403.6L422.9 404.4L423.6 405.1L424.3 405.7L425.0 406.3L425.7 407.2L426.4 408.1L427.1 408.9L427.8 409.4L428.5 410.0L429.2 411.1L429.9 411.9L430.6 412.4L431.3 413.0L432.0 413.6L432.7 414.0L433.4 414.5L434.1 415.1L434.8 415.8L435.5 416.4L436.2 416.8L436.9 417.3L437.6 417.6L438.3 417.6L439.0 417.9L439.7 418.4L440.4 418.9L441.1 419.1L441.8 419.3L442.5 419.8L443.2 420.2L443.9 420.1L444.6 420.2L445.3 420.4L446.0 420.7L446.7 421.0L447.4 421.2L448.1 421.3L448.8 421.4L449.5 421.4L450.2 421.1L450.9 421.2L451.6 421.5L452.3 421.6L453.0 421.7L453.7 421.7L454.4 421.7L455.1 421.7L455.8 421.8L456.5 422.0L457.2 422.0L457.9 422.2L458.6 422.4L459.3 422.2L460.0 422.0L460.7 422.3L461.4 422.5L462.1 422.6L462.8 422.5L463.5 422.2L464.2 422.4L464.9 422.5L465.6 422.3L466.3 421.9L467.0 421.6L467.7 421.9L468.4 422.3L469.1 421.9L469.8 421.9L470.5 422.2L471.2 422.4L471.9 422.3L472.6 422.0L473.3 422.1L474.0 422.2L474.7 422.0L475.4 422.2L476.1 422.5L476.8 422.5L477.5 422.1L478.2 421.7L478.9 421.9L479.6 422.1L480.3 422.0L481.0 422.3L481.7 422.6L482.4 422.2L483.1 421.9L483.8 422.0L484.5 422.0L485.2 421.9L485.9 422.0L486.6 422.2L487.3 422.0L488.0 421.8L488.7 421.9L489.4 422.0L490.1 422.0L490.8 422.2L491.5 422.1L492.2 421.9L492.9 422.1L493.6 422.4L494.3 422.4L495.0 422.1L495.7 422.0L496.4 421.7L497.1 421.6L497.8 421.9L498.5 422.0L499.2 422.0L499.9 421.9L500.6 421.9L501.3 421.8L502.0 422.0L502.7 422.0L503.4 422.0L504.1 421.8L504.8 421.5L505.5 421.7L506.2 422.2L506.9 422.3L507.6 422.0" stroke="#cc4c5c" stroke-width="1.7" fill="none" stroke-linejoin="round"/>
<path d="M299.0 444.8L299.7 444.7L300.4 444.9L301.1 444.9L301.8 444.7L302.5 444.9L303.2 445.0L303.9 444.9L304.6 444.7L305.3 444.7L306.0 444.8L306.7 445.0L307.4 444.9L308.1 444.7L308.8 445.0L309.5 445.1L310.2 445.0L310.9 445.0L311.6 444.8L312.3 444.8L313.0 444.8L313.7 444.6L314.4 444.7L315.1 444.8L315.8 444.6L316.5 444.6L317.2 444.6L317.9 444.5L318.6 444.4L319.3 444.4L320.0 444.6L320.7 444.8L321.4 444.5L322.1 444.4L322.8 444.6L323.5 444.7L324.2 444.9L324.9 444.8L325.6 444.6L326.3 444.6L327.0 444.7L327.7 444.8L328.4 444.8L329.1 444.4L329.8 444.4L330.5 444.9L331.2 445.0L331.9 444.7L332.6 444.6L333.3 444.4L334.0 444.3L334.7 444.4L335.4 444.4L336.1 444.3L336.8 444.2L337.5 444.4L338.2 444.5L338.9 444.4L339.6 444.2L340.3 444.0L341.0 444.1L341.7 444.2L342.4 443.9L343.1 443.9L343.8 444.0L344.5 444.1L345.2 444.0L345.9 444.0L346.6 444.0L347.3 443.7L348.0 443.5L348.7 443.5L349.4 443.6L350.1 443.5L350.8 443.3L351.5 443.2L352.2 443.3L352.9 443.3L353.6 443.1L354.3 442.9L355.0 442.7L355.7 442.6L356.4 442.4L357.1 442.1L357.8 441.9L358.5 441.9L359.2 441.9L359.9 441.5L360.6 441.0L361.3 440.8L362.0 440.7L362.7 440.5L363.4 440.0L364.1 439.7L364.8 439.7L365.5 439.5L366.2 439.5L366.9 439.5L367.6 439.5L368.3 439.4L369.0 438.9L369.7 438.3L370.4 437.9L371.1 437.8L371.8 437.5L372.5 437.1L373.2 437.0L373.9 436.9L374.6 436.5L375.3 436.1L376.0 435.6L376.7 435.1L377.4 434.5L378.1 434.0L378.8 433.8L379.5 433.6L380.2 432.9L380.9 432.1L381.6 431.5L382.3 431.0L383.0 430.3L383.7 429.6L384.4 428.8L385.1 428.0L385.8 427.5L386.5 426.7L387.2 425.9L387.9 425.2L388.6 424.3L389.3 423.5L390.0 422.8L390.7 422.0L391.4 421.2L392.1 420.3L392.8 419.4L393.5 418.8L394.2 418.3L394.9 417.8L395.6 417.2L396.3 416.4L397.0 415.7L397.7 415.0L398.4 414.5L399.1 414.2L399.8 413.5L400.5 413.3L401.2 413.3L401.9 413.2L402.6 412.9L403.3 412.9L404.0 413.1L404.7 412.8L405.4 412.7L406.1 413.1L406.8 413.2L407.5 413.2L408.2 413.5L408.9 413.8L409.6 414.1L410.3 414.3L411.0 414.7L411.7 415.3L412.4 415.7L413.1 416.0L413.8 416.7L414.5 417.5L415.2 418.1L415.9 418.8L416.6 419.6L417.3 420.1L418.0 420.7L418.7 421.7L419.4 422.7L420.1 423.6L420.8 424.4L421.5 425.0L422.2 425.8L422.9 426.6L423.6 427.3L424.3 428.3L425.0 429.1L425.7 429.8L426.4 430.6L427.1 431.0L427.8 431.5L428.5 432.3L429.2 433.0L429.9 433.6L430.6 434.3L431.3 435.0L432.0 435.4L432.7 435.8L433.4 436.4L434.1 437.0L434.8 437.2L435.5 437.6L436.2 438.1L436.9 438.5L437.6 439.1L438.3 439.7L439.0 440.2L439.7 440.5L440.4 440.7L441.1 441.0L441.8 441.1L442.5 441.2L443.2 441.4L443.9 441.6L444.6 441.7L445.3 441.7L446.0 441.9L446.7 442.0L447.4 442.1L448.1 442.4L448.8 442.6L449.5 442.7L450.2 442.8L450.9 442.9L451.6 442.8L452.3 442.7L453.0 442.5L453.7 442.3L454.4 442.7L455.1 443.1L455.8 443.0L456.5 443.2L457.2 443.5L457.9 443.4L458.6 443.7L459.3 443.8L460.0 443.8L460.7 443.9L461.4 443.6L462.1 443.3L462.8 443.3L463.5 443.2L464.2 443.0L464.9 443.2L465.6 443.6L466.3 443.4L467.0 443.2L467.7 443.2L468.4 443.3L469.1 443.3L469.8 443.1L470.5 443.0L471.2 442.9L471.9 443.1L472.6 443.5L473.3 443.8L474.0 443.8L474.7 443.8L475.4 443.5L476.1 443.2L476.8 443.0L477.5 443.0L478.2 442.9L478.9 443.2L479.6 443.6L480.3 443.6L481.0 443.4L481.7 443.2L482.4 442.9L483.1 443.0L483.8 443.2L484.5 443.6L485.2 443.6L485.9 443.2L486.6 443.1L487.3 443.1L488.0 443.0L488.7 442.9L489.4 443.1L490.1 443.3L490.8 443.2L491.5 443.0L492.2 442.9L492.9 442.9L493.6 443.1L494.3 443.0L495.0 443.0L495.7 443.0L496.4 442.9L497.1 442.7L497.8 442.9L498.5 443.3L499.2 443.3L499.9 443.3L500.6 443.5L501.3 443.3L502.0 443.2L502.7 443.2L503.4 443.3L504.1 443.3L504.8 443.1L505.5 443.0L506.2 443.2L506.9 443.1L507.6 442.8" stroke="#da8490" stroke-width="1.7" fill="none" stroke-linejoin="round"/>
<path d="M299.0 464.8L299.7 464.8L300.4 464.6L301.1 464.6L301.8 464.8L302.5 464.8L303.2 464.7L303.9 464.6L304.6 464.5L305.3 464.5L306.0 464.4L306.7 464.5L307.4 464.7L308.1 464.8L308.8 464.8L309.5 465.0L310.2 465.2L310.9 465.0L311.6 464.6L312.3 464.5L313.0 464.6L313.7 464.6L314.4 464.6L315.1 464.7L315.8 465.0L316.5 464.9L317.2 464.7L317.9 464.6L318.6 464.8L319.3 465.0L320.0 465.0L320.7 464.7L321.4 464.3L322.1 464.6L322.8 465.1L323.5 465.1L324.2 464.7L324.9 464.4L325.6 464.6L326.3 464.5L327.0 464.2L327.7 464.5L328.4 464.9L329.1 465.0L329.8 464.8L330.5 464.7L331.2 464.9L331.9 464.6L332.6 464.4L333.3 464.4L334.0 464.7L334.7 464.8L335.4 464.8L336.1 464.6L336.8 464.5L337.5 464.4L338.2 464.3L338.9 464.6L339.6 464.7L340.3 464.4L341.0 464.4L341.7 464.5L342.4 464.7L343.1 464.5L343.8 464.2L344.5 464.0L345.2 463.8L345.9 463.8L346.6 464.0L347.3 463.9L348.0 463.9L348.7 464.0L349.4 463.9L350.1 463.7L350.8 463.6L351.5 463.5L352.2 463.3L352.9 463.1L353.6 462.9L354.3 462.8L355.0 462.7L355.7 462.6L356.4 462.6L357.1 462.5L357.8 462.2L358.5 461.9L359.2 462.0L359.9 461.8L360.6 461.6L361.3 461.5L362.0 461.4L362.7 461.3L363.4 460.8L364.1 460.4L364.8 460.3L365.5 460.5L366.2 460.5L366.9 460.2L367.6 460.0L368.3 459.8L369.0 459.5L369.7 459.2L370.4 458.9L371.1 458.6L371.8 458.6L372.5 458.4L373.2 457.9L373.9 457.5L374.6 457.5L375.3 457.3L376.0 456.7L376.7 456.2L377.4 455.8L378.1 455.1L378.8 454.5L379.5 454.3L380.2 454.0L380.9 453.5L381.6 453.0L382.3 452.5L383.0 451.9L383.7 451.2L384.4 450.7L385.1 450.3L385.8 449.8L386.5 449.1L387.2 448.1L387.9 446.9L388.6 446.3L389.3 446.0L390.0 445.3L390.7 444.7L391.4 444.3L392.1 443.6L392.8 442.8L393.5 442.2L394.2 441.5L394.9 441.0L395.6 440.5L396.3 439.8L397.0 439.2L397.7 438.8L398.4 438.4L399.1 438.1L399.8 437.9L400.5 437.6L401.2 437.6L401.9 437.3L402.6 436.8L403.3 436.8L404.0 436.9L404.7 436.6L405.4 436.5L406.1 436.8L406.8 437.1L407.5 436.9L408.2 437.2L408.9 437.5L409.6 437.7L410.3 437.9L411.0 438.4L411.7 439.0L412.4 439.4L413.1 439.7L413.8 440.3L414.5 440.7L415.2 441.3L415.9 442.1L416.6 442.8L417.3 443.4L418.0 444.0L418.7 444.6L419.4 445.3L420.1 446.1L420.8 446.8L421.5 447.3L422.2 448.0L422.9 448.7L423.6 449.2L424.3 449.8L425.0 450.4L425.7 450.8L426.4 451.5L427.1 452.3L427.8 453.0L428.5 453.7L429.2 454.3L429.9 454.8L430.6 455.4L431.3 455.9L432.0 456.3L432.7 456.7L433.4 457.3L434.1 458.0L434.8 458.6L435.5 458.9L436.2 459.1L436.9 459.1L437.6 459.4L438.3 460.0L439.0 460.4L439.7 460.6L440.4 461.0L441.1 461.3L441.8 461.4L442.5 461.6L443.2 461.6L443.9 461.5L444.6 461.7L445.3 462.0L446.0 462.2L446.7 462.2L447.4 462.2L448.1 462.4L448.8 462.6L449.5 462.9L450.2 463.1L450.9 463.2L451.6 463.1L452.3 463.1L453.0 463.1L453.7 463.3L454.4 463.2L455.1 462.9L455.8 463.0L456.5 463.4L457.2 463.4L457.9 463.2L458.6 463.4L459.3 463.5L460.0 463.2L460.7 462.9L461.4 463.0L462.1 463.2L462.8 463.3L463.5 463.4L464.2 463.6L464.9 463.5L465.6 463.2L466.3 463.1L467.0 463.2L467.7 463.5L468.4 463.6L469.1 463.5L469.8 463.4L470.5 463.3L471.2 463.5L471.9 463.7L472.6 463.4L473.3 463.5L474.0 463.5L474.7 463.0L475.4 462.8L476.1 463.1L476.8 463.4L477.5 463.3L478.2 463.3L478.9 463.4L479.6 463.4L480.3 463.3L481.0 463.3L481.7 463.4L482.4 463.4L483.1 463.4L483.8 463.3L484.5 463.1L485.2 463.3L485.9 463.2L486.6 462.9L487.3 463.0L488.0 462.9L488.7 463.0L489.4 463.2L490.1 463.1L490.8 463.1L491.5 463.3L492.2 463.5L492.9 463.2L493.6 462.8L494.3 462.8L495.0 462.9L495.7 463.1L496.4 463.2L497.1 463.3L497.8 463.2L498.5 463.2L499.2 463.2L499.9 463.1L500.6 463.2L501.3 463.3L502.0 463.2L502.7 462.9L503.4 462.6L504.1 462.8L504.8 462.8L505.5 462.6L506.2 462.8L506.9 463.0L507.6 463.0" stroke="#e8b6be" stroke-width="1.7" fill="none" stroke-linejoin="round"/>
<path d="M299.0 483.9L299.7 484.2L300.4 484.3L301.1 484.1L301.8 484.2L302.5 484.2L303.2 484.1L303.9 484.2L304.6 483.9L305.3 483.7L306.0 483.7L306.7 483.7L307.4 483.7L308.1 483.9L308.8 484.1L309.5 484.0L310.2 484.0L310.9 484.0L311.6 483.9L312.3 483.9L313.0 483.9L313.7 483.9L314.4 483.9L315.1 483.9L315.8 483.8L316.5 483.7L317.2 483.7L317.9 483.9L318.6 483.8L319.3 483.6L320.0 483.5L320.7 483.6L321.4 483.8L322.1 483.9L322.8 483.8L323.5 483.7L324.2 483.6L324.9 483.3L325.6 483.2L326.3 483.4L327.0 483.4L327.7 483.4L328.4 483.5L329.1 483.7L329.8 483.6L330.5 483.7L331.2 483.6L331.9 483.4L332.6 483.4L333.3 483.7L334.0 483.9L334.7 484.1L335.4 484.1L336.1 483.9L336.8 483.8L337.5 483.7L338.2 483.7L338.9 483.5L339.6 483.6L340.3 483.7L341.0 483.5L341.7 483.5L342.4 483.7L343.1 483.5L343.8 483.3L344.5 483.3L345.2 483.2L345.9 483.1L346.6 483.2L347.3 483.1L348.0 483.1L348.7 483.1L349.4 483.0L350.1 482.9L350.8 482.9L351.5 482.9L352.2 482.8L352.9 482.6L353.6 482.3L354.3 482.1L355.0 482.1L355.7 482.2L356.4 482.3L357.1 482.2L357.8 481.9L358.5 481.6L359.2 481.1L359.9 480.9L360.6 480.9L361.3 480.9L362.0 480.6L362.7 480.6L363.4 480.7L364.1 480.5L364.8 480.4L365.5 480.7L366.2 480.5L366.9 480.2L367.6 480.0L368.3 479.9L369.0 479.8L369.7 479.3L370.4 479.0L371.1 479.0L371.8 479.0L372.5 478.8L373.2 478.3L373.9 478.1L374.6 478.1L375.3 478.0L376.0 477.8L376.7 477.6L377.4 477.3L378.1 476.7L378.8 476.3L379.5 476.0L380.2 475.4L380.9 474.9L381.6 474.4L382.3 473.9L383.0 473.4L383.7 472.9L384.4 472.4L385.1 472.0L385.8 471.6L386.5 471.5L387.2 471.2L387.9 470.4L388.6 469.6L389.3 469.0L390.0 468.7L390.7 468.1L391.4 467.5L392.1 466.9L392.8 466.5L393.5 465.9L394.2 465.2L394.9 464.6L395.6 464.3L396.3 464.1L397.0 463.6L397.7 463.3L398.4 463.1L399.1 462.8L399.8 462.4L400.5 461.9L401.2 461.9L401.9 461.8L402.6 461.3L403.3 461.2L404.0 461.4L404.7 461.3L405.4 461.3L406.1 461.5L406.8 461.6L407.5 461.7L408.2 461.8L408.9 462.1L409.6 462.5L410.3 462.5L411.0 462.6L411.7 463.1L412.4 463.5L413.1 463.9L413.8 464.3L414.5 464.7L415.2 465.3L415.9 465.9L416.6 466.4L417.3 466.7L418.0 467.0L418.7 467.7L419.4 468.4L420.1 469.0L420.8 469.5L421.5 469.9L422.2 470.6L422.9 471.2L423.6 471.5L424.3 471.9L425.0 472.5L425.7 473.3L426.4 473.8L427.1 474.0L427.8 474.5L428.5 475.2L429.2 475.5L429.9 475.9L430.6 476.3L431.3 476.6L432.0 477.2L432.7 477.9L433.4 478.6L434.1 479.0L434.8 479.1L435.5 479.4L436.2 479.7L436.9 479.7L437.6 480.0L438.3 480.4L439.0 480.6L439.7 480.7L440.4 480.9L441.1 481.0L441.8 481.3L442.5 481.7L443.2 481.9L443.9 481.7L444.6 481.7L445.3 481.8L446.0 481.8L446.7 482.1L447.4 482.7L448.1 483.0L448.8 482.7L449.5 482.5L450.2 482.5L450.9 482.3L451.6 482.6L452.3 483.1L453.0 483.0L453.7 482.6L454.4 482.6L455.1 483.0L455.8 483.0L456.5 482.9L457.2 483.0L457.9 482.8L458.6 482.7L459.3 483.0L460.0 483.0L460.7 482.8L461.4 482.8L462.1 483.0L462.8 483.1L463.5 483.1L464.2 483.2L464.9 483.3L465.6 483.1L466.3 482.8L467.0 482.6L467.7 482.8L468.4 483.4L469.1 483.6L469.8 483.1L470.5 482.9L471.2 483.1L471.9 483.2L472.6 483.1L473.3 482.9L474.0 482.8L474.7 483.0L475.4 483.4L476.1 483.5L476.8 483.2L477.5 483.1L478.2 483.3L478.9 483.4L479.6 483.2L480.3 483.0L481.0 483.2L481.7 483.2L482.4 482.9L483.1 482.8L483.8 483.1L484.5 483.3L485.2 483.3L485.9 483.1L486.6 482.9L487.3 482.8L488.0 482.8L488.7 482.8L489.4 482.8L490.1 483.0L490.8 483.1L491.5 482.9L492.2 482.9L492.9 483.1L493.6 483.3L494.3 483.2L495.0 483.1L495.7 483.2L496.4 483.1L497.1 483.1L497.8 483.3L498.5 483.4L499.2 483.5L499.9 483.4L500.6 483.3L501.3 483.0L502.0 482.9L502.7 483.0L503.4 483.1L504.1 483.1L504.8 483.0L505.5 482.8L506.2 482.8L506.9 483.1L507.6 483.3" stroke="#f0d8cc" stroke-width="1.7" fill="none" stroke-linejoin="round"/>
<path d="M353 341V502M405.2 304.5V502M449.3 342V502" stroke="#000" stroke-width="1.7" stroke-dasharray="4.2 2.8" fill="none"/>
<path d="M487 345.9V472" stroke="#6a0a10" stroke-width="1.6"/>
<path d="M483.8 470.6L490.2 470.6L487 483.5Z" fill="#6a0a10"/>
<rect x="33.0" y="5.2" width="211.1" height="224.4" fill="none" stroke="#000" stroke-width="1.9"/>
<rect x="298.6" y="5.3" width="211.3" height="224.7" fill="none" stroke="#000" stroke-width="1.9"/>
<rect x="36.0" y="279.4" width="211.0" height="223.8" fill="none" stroke="#000" stroke-width="1.9"/>
<rect x="298.6" y="279.5" width="211.4" height="223.1" fill="none" stroke="#000" stroke-width="1.9"/>
<path d="M223.4 229.6V226.6" stroke="#000" stroke-width="1.6"/>
<path d="M202.2 229.6V224.6" stroke="#000" stroke-width="1.6"/>
<path d="M181.0 229.6V226.6" stroke="#000" stroke-width="1.6"/>
<path d="M159.8 229.6V224.6" stroke="#000" stroke-width="1.6"/>
<path d="M138.6 229.6V226.6" stroke="#000" stroke-width="1.6"/>
<path d="M117.4 229.6V224.6" stroke="#000" stroke-width="1.6"/>
<path d="M96.2 229.6V226.6" stroke="#000" stroke-width="1.6"/>
<path d="M75.0 229.6V224.6" stroke="#000" stroke-width="1.6"/>
<path d="M53.8 229.6V226.6" stroke="#000" stroke-width="1.6"/>
<path d="M486.1 230.0V227.0" stroke="#000" stroke-width="1.6"/>
<path d="M462.5 230.0V225.0" stroke="#000" stroke-width="1.6"/>
<path d="M439.0 230.0V227.0" stroke="#000" stroke-width="1.6"/>
<path d="M415.4 230.0V225.0" stroke="#000" stroke-width="1.6"/>
<path d="M391.9 230.0V227.0" stroke="#000" stroke-width="1.6"/>
<path d="M368.3 230.0V225.0" stroke="#000" stroke-width="1.6"/>
<path d="M344.8 230.0V227.0" stroke="#000" stroke-width="1.6"/>
<path d="M321.2 230.0V225.0" stroke="#000" stroke-width="1.6"/>
<path d="M204.8 503.2V498.2" stroke="#000" stroke-width="1.6"/>
<path d="M162.5 503.2V498.2" stroke="#000" stroke-width="1.6"/>
<path d="M120.2 503.2V498.2" stroke="#000" stroke-width="1.6"/>
<path d="M77.9 503.2V498.2" stroke="#000" stroke-width="1.6"/>
<path d="M486.5 502.6V497.6" stroke="#000" stroke-width="1.6"/>
<path d="M462.9 502.6V497.6" stroke="#000" stroke-width="1.6"/>
<path d="M439.3 502.6V497.6" stroke="#000" stroke-width="1.6"/>
<path d="M415.8 502.6V497.6" stroke="#000" stroke-width="1.6"/>
<path d="M392.2 502.6V497.6" stroke="#000" stroke-width="1.6"/>
<path d="M368.6 502.6V497.6" stroke="#000" stroke-width="1.6"/>
<path d="M345.0 502.6V497.6" stroke="#000" stroke-width="1.6"/>
<path d="M321.4 502.6V497.6" stroke="#000" stroke-width="1.6"/>
<path d="M298.6 310.1H303.5" stroke="#000" stroke-width="1.6"/>
<path d="M298.6 341.8H303.5" stroke="#000" stroke-width="1.6"/>
<path d="M298.6 373.3H303.5" stroke="#000" stroke-width="1.6"/>
<path d="M298.6 404.8H303.5" stroke="#000" stroke-width="1.6"/>
<path d="M298.6 435.4H303.5" stroke="#000" stroke-width="1.6"/>
<path d="M298.6 467.6H303.5" stroke="#000" stroke-width="1.6"/>
<path d="M298.6 499.3H303.5" stroke="#000" stroke-width="1.6"/>
<g transform="translate(2.21 12.54) scale(0.1786 0.1553)"><text font-size="100" font-weight="bold" font-family="Liberation Sans, sans-serif">(a)</text></g>
<g transform="translate(35.01 25.40) scale(0.1837 0.1904)"><text font-size="100" font-weight="bold" font-family="Liberation Sans, sans-serif">Hf4<tspan font-style="italic">f</tspan></text></g>
<g transform="translate(112.48 32.93) scale(0.1737 0.1429)"><text font-size="100" font-weight="bold" font-family="Liberation Sans, sans-serif">HfO<tspan font-size="48" dx="8" dy="4">2</tspan></text></g>
<g transform="translate(138.25 16.68) scale(0.1065 0.1162)"><text font-size="100" font-weight="bold" letter-spacing="9" font-family="Liberation Sans, sans-serif">For 20min in UHV</text></g>
<g transform="translate(201.50 109.29) scale(0.1160 0.1116)"><text font-size="100" font-weight="bold" font-family="Liberation Sans, sans-serif">1000<tspan dx="1" dy="-24">°</tspan><tspan dx="5" dy="24">C</tspan></text></g>
<g transform="translate(208.04 138.69) scale(0.1158 0.1063)"><text font-size="100" font-weight="bold" font-family="Liberation Sans, sans-serif">950<tspan dx="1" dy="-24">°</tspan><tspan dx="5" dy="24">C</tspan></text></g>
<g transform="translate(207.04 177.19) scale(0.1158 0.1116)"><text font-size="100" font-weight="bold" font-family="Liberation Sans, sans-serif">900<tspan dx="1" dy="-24">°</tspan><tspan dx="5" dy="24">C</tspan></text></g>
<g transform="translate(190.66 206.46) scale(0.1142 0.1160)"><text font-size="100" font-weight="bold" letter-spacing="4" font-family="Liberation Sans, sans-serif">A<tspan dx="14">s-depo</tspan></text></g>
<g transform="translate(66.12 261.72) scale(0.1539 0.1372)"><text font-size="100" font-weight="bold" font-family="Liberation Sans, sans-serif">Binding energy (eV)</text></g>
<g transform="translate(16.91 207.85) rotate(-90) scale(0.1787 0.1755)"><text font-size="100" font-weight="bold" font-family="Liberation Sans, sans-serif">Intensity (arb.units)</text></g>
<g transform="translate(272.03 13.75) scale(0.1339 0.1309)"><text font-size="100" font-weight="bold" font-family="Liberation Sans, sans-serif">(b)</text></g>
<g transform="translate(300.72 23.57) scale(0.1917 0.1777)"><text font-size="100" font-weight="bold" font-family="Liberation Sans, sans-serif">Si<tspan font-style="italic">2p</tspan></text></g>
<g transform="translate(402.54 15.59) scale(0.1083 0.1068)"><text font-size="100" font-weight="bold" letter-spacing="9" font-family="Liberation Sans, sans-serif">For 20min in UHV</text></g>
<g transform="translate(416.64 35.26) scale(0.1528 0.1419)"><text font-size="100" font-weight="bold" font-family="Liberation Sans, sans-serif">SiC</text></g>
<g transform="translate(352.25 73.90) scale(0.1485 0.1246)"><text font-size="100" font-weight="bold" font-family="Liberation Sans, sans-serif">SiO<tspan font-size="60" dx="2" dy="57">2</tspan></text></g>
<g transform="translate(464.60 87.79) scale(0.1172 0.1063)"><text font-size="100" font-weight="bold" font-family="Liberation Sans, sans-serif">1000<tspan dx="1" dy="-24">°</tspan><tspan dx="5" dy="24">C</tspan></text></g>
<g transform="translate(470.64 118.08) scale(0.1158 0.1168)"><text font-size="100" font-weight="bold" font-family="Liberation Sans, sans-serif">950<tspan dx="1" dy="-24">°</tspan><tspan dx="5" dy="24">C</tspan></text></g>
<g transform="translate(471.43 153.89) scale(0.1169 0.1137)"><text font-size="100" font-weight="bold" font-family="Liberation Sans, sans-serif">900<tspan dx="1" dy="-24">°</tspan><tspan dx="5" dy="24">C</tspan></text></g>
<g transform="translate(459.55 184.14) scale(0.1154 0.1170)"><text font-size="100" font-weight="bold" letter-spacing="5" font-family="Liberation Sans, sans-serif">As-depo</text></g>
<g transform="translate(322.02 262.83) scale(0.1548 0.1415)"><text font-size="100" font-weight="bold" font-family="Liberation Sans, sans-serif">Binding energy (eV)</text></g>
<g transform="translate(285.92 192.81) rotate(-90) scale(0.1579 0.1564)"><text font-size="100" font-weight="bold" font-family="Liberation Sans, sans-serif">Intensity (arb.units)</text></g>
<g transform="translate(10.22 287.87) scale(0.1562 0.1394)"><text font-size="100" font-weight="bold" font-family="Liberation Sans, sans-serif">(c)</text></g>
<g transform="translate(42.92 299.20) scale(0.2250 0.2096)"><text font-size="100" font-weight="bold" font-family="Liberation Sans, sans-serif">Hf4f</text></g>
<g transform="translate(126.17 288.92) scale(0.1179 0.0975)"><text font-size="100" font-weight="bold" font-family="Liberation Sans, sans-serif">HfO<tspan font-size="50" dx="10" dy="46">2</tspan></text></g>
<g transform="translate(185.45 292.69) scale(0.1377 0.1278)"><text font-size="100" font-family="Liberation Serif, Noto Serif CJK SC, serif" stroke="#000" stroke-width="3.5">@ 1000°C</text></g>
<g transform="translate(201.72 331.83) scale(0.1233 0.0910)"><text font-size="100" stroke="#000" stroke-width="5" font-family="Liberation Sans, sans-serif">take-off</text></g>
<g transform="translate(201.35 346.99) scale(0.1257 0.0959)"><text font-size="100" stroke="#000" stroke-width="5" font-family="Liberation Sans, sans-serif">angle</text></g>
<g transform="translate(219.64 372.15) scale(0.1657 0.1549)"><text font-size="100" font-weight="bold" font-family="Liberation Sans, sans-serif">90°</text></g>
<g transform="translate(221.40 497.55) scale(0.1490 0.1521)"><text font-size="100" font-weight="bold" font-family="Liberation Sans, sans-serif">30°</text></g>
<g transform="translate(51.49 537.38) scale(0.1733 0.1723)"><text font-size="100" font-weight="bold" font-family="Liberation Sans, sans-serif">Binding energy (eV)</text></g>
<g transform="translate(23.81 471.02) rotate(-90) scale(0.1748 0.1755)"><text font-size="100" font-weight="bold" font-family="Liberation Sans, sans-serif">Intensity (arb.units)</text></g>
<g transform="translate(272.18 287.10) scale(0.1636 0.1383)"><text font-size="100" font-weight="bold" font-family="Liberation Sans, sans-serif">(d)</text></g>
<g transform="translate(301.97 298.96) scale(0.2133 0.1755)"><text font-size="100" stroke="#000" stroke-width="4" font-family="Liberation Sans, sans-serif">Si2p</text></g>
<g transform="translate(342.87 336.86) scale(0.1168 0.1074)"><text font-size="100" stroke="#000" stroke-width="5" font-family="Liberation Sans, sans-serif">SiO<tspan font-size="40" dx="3" dy="31">x</tspan></text></g>
<g transform="translate(398.79 301.38) scale(0.1043 0.1230)"><text font-size="100" font-weight="bold" font-family="Liberation Sans, sans-serif">SiC</text></g>
<g transform="translate(443.18 338.58) scale(0.1080 0.1230)"><text font-size="100" font-weight="bold" font-family="Liberation Sans, sans-serif">Si<tspan font-weight="normal">°</tspan></text></g>
<g transform="translate(446.16 292.32) scale(0.1361 0.1311)"><text font-size="100" font-family="Liberation Serif, Noto Serif CJK SC, serif" stroke="#000" stroke-width="3.5">@ 1000°C</text></g>
<g transform="translate(464.72 310.47) scale(0.1236 0.1090)"><text font-size="100" stroke="#000" stroke-width="5" font-family="Liberation Sans, sans-serif">take-off</text></g>
<g transform="translate(464.35 325.97) scale(0.1245 0.1102)"><text font-size="100" stroke="#000" stroke-width="5" font-family="Liberation Sans, sans-serif">angle</text></g>
<g transform="translate(476.03 342.05) scale(0.1671 0.1549)"><text font-size="100" font-weight="bold" font-family="Liberation Sans, sans-serif">90°</text></g>
<g transform="translate(475.87 497.14) scale(0.1669 0.1620)"><text font-size="100" font-weight="bold" font-family="Liberation Sans, sans-serif">30°</text></g>
<g transform="translate(320.10 537.38) scale(0.1710 0.1723)"><text font-size="100" font-weight="bold" font-family="Liberation Sans, sans-serif">Binding energy (eV)</text></g>
<g transform="translate(286.61 470.82) rotate(-90) scale(0.1736 0.1755)"><text font-size="100" font-weight="bold" font-family="Liberation Sans, sans-serif">Intensity (arb.units)</text></g>
<g transform="translate(235.52 244.00) scale(0.1365 0.1275)"><text font-size="100" font-weight="bold" font-family="Liberation Sans, sans-serif">14</text></g>
<g transform="translate(193.69 243.88) scale(0.1326 0.1239)"><text font-size="100" font-weight="bold" font-family="Liberation Sans, sans-serif">16</text></g>
<g transform="translate(151.30 243.88) scale(0.1326 0.1239)"><text font-size="100" font-weight="bold" font-family="Liberation Sans, sans-serif">18</text></g>
<g transform="translate(109.25 243.88) scale(0.1326 0.1239)"><text font-size="100" font-weight="bold" font-family="Liberation Sans, sans-serif">20</text></g>
<g transform="translate(66.82 244.00) scale(0.1345 0.1257)"><text font-size="100" font-weight="bold" font-family="Liberation Sans, sans-serif">22</text></g>
<g transform="translate(24.23 244.00) scale(0.1345 0.1257)"><text font-size="100" font-weight="bold" font-family="Liberation Sans, sans-serif">24</text></g>
<g transform="translate(501.94 244.07) scale(0.1386 0.1296)"><text font-size="100" font-weight="bold" font-family="Liberation Sans, sans-serif">98</text></g>
<g transform="translate(451.08 244.07) scale(0.1386 0.1296)"><text font-size="100" font-weight="bold" font-family="Liberation Sans, sans-serif">100</text></g>
<g transform="translate(404.18 244.07) scale(0.1386 0.1296)"><text font-size="100" font-weight="bold" font-family="Liberation Sans, sans-serif">102</text></g>
<g transform="translate(357.08 244.07) scale(0.1386 0.1296)"><text font-size="100" font-weight="bold" font-family="Liberation Sans, sans-serif">104</text></g>
<g transform="translate(310.38 244.07) scale(0.1386 0.1296)"><text font-size="100" font-weight="bold" font-family="Liberation Sans, sans-serif">106</text></g>
<g transform="translate(237.63 518.40) scale(0.1551 0.1449)"><text font-size="100" font-weight="bold" font-family="Liberation Sans, sans-serif">14</text></g>
<g transform="translate(195.85 518.26) scale(0.1507 0.1408)"><text font-size="100" font-weight="bold" font-family="Liberation Sans, sans-serif">16</text></g>
<g transform="translate(153.43 518.26) scale(0.1507 0.1408)"><text font-size="100" font-weight="bold" font-family="Liberation Sans, sans-serif">18</text></g>
<g transform="translate(111.39 518.26) scale(0.1507 0.1408)"><text font-size="100" font-weight="bold" font-family="Liberation Sans, sans-serif">20</text></g>
<g transform="translate(68.93 518.40) scale(0.1529 0.1429)"><text font-size="100" font-weight="bold" font-family="Liberation Sans, sans-serif">22</text></g>
<g transform="translate(26.29 518.40) scale(0.1529 0.1429)"><text font-size="100" font-weight="bold" font-family="Liberation Sans, sans-serif">24</text></g>
<g transform="translate(476.86 518.26) scale(0.1507 0.1408)"><text font-size="100" font-weight="bold" font-family="Liberation Sans, sans-serif">98</text></g>
<g transform="translate(425.57 518.26) scale(0.1507 0.1408)"><text font-size="100" font-weight="bold" font-family="Liberation Sans, sans-serif">100</text></g>
<g transform="translate(378.57 518.26) scale(0.1507 0.1408)"><text font-size="100" font-weight="bold" font-family="Liberation Sans, sans-serif">102</text></g>
<g transform="translate(331.34 518.26) scale(0.1507 0.1408)"><text font-size="100" font-weight="bold" font-family="Liberation Sans, sans-serif">104</text></g>
<g transform="translate(284.57 518.26) scale(0.1507 0.1408)"><text font-size="100" font-weight="bold" font-family="Liberation Sans, sans-serif">106</text></g>
</svg>
</body></html>
